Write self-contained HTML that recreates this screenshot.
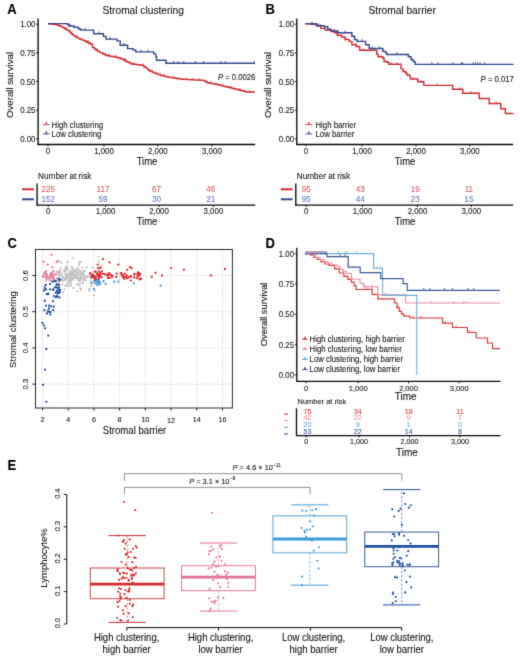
<!DOCTYPE html>
<html><head><meta charset="utf-8"><style>
html,body{margin:0;padding:0;background:#fff;}
svg{display:block;}
text{font-family:"Liberation Sans", sans-serif;}
</style></head><body>
<svg width="520" height="660" viewBox="0 0 520 660">
<defs><filter id="bl" x="0" y="0" width="100%" height="100%" filterUnits="userSpaceOnUse" color-interpolation-filters="sRGB"><feConvolveMatrix order="3" kernelMatrix="0.02 0.08 0.02 0.08 0.6 0.08 0.02 0.08 0.02" divisor="1" edgeMode="duplicate" preserveAlpha="false"/></filter></defs>
<rect width="520" height="660" fill="#fff"/>
<g filter="url(#bl)">
<rect width="520" height="660" fill="#fff"/>
<text transform="translate(7.20,13.91) scale(1,1.07)" font-size="13" text-anchor="start" fill="#000" stroke="#000" stroke-width="0.08" font-weight="bold" font-style="normal">A</text>
<text transform="translate(143.20,13.53) scale(1,1.07)" font-size="10.2" text-anchor="middle" fill="#111" stroke="#111" stroke-width="0.08" font-weight="normal" font-style="normal">Stromal clustering</text>
<line x1="38.10" y1="18.50" x2="38.10" y2="145.00" stroke="#0a0a0a" stroke-width="1.35"/>
<line x1="37.60" y1="144.50" x2="255.20" y2="144.50" stroke="#0a0a0a" stroke-width="1.35"/>
<line x1="36.10" y1="24.20" x2="38.10" y2="24.20" stroke="#0a0a0a" stroke-width="0.9"/>
<text transform="translate(35.50,27.24) scale(1,1.07)" font-size="7.9" text-anchor="end" fill="#151515" stroke="#151515" stroke-width="0.08" font-weight="normal" font-style="normal">1.00</text>
<line x1="36.10" y1="52.90" x2="38.10" y2="52.90" stroke="#0a0a0a" stroke-width="0.9"/>
<text transform="translate(35.50,55.94) scale(1,1.07)" font-size="7.9" text-anchor="end" fill="#151515" stroke="#151515" stroke-width="0.08" font-weight="normal" font-style="normal">0.75</text>
<line x1="36.10" y1="81.50" x2="38.10" y2="81.50" stroke="#0a0a0a" stroke-width="0.9"/>
<text transform="translate(35.50,84.54) scale(1,1.07)" font-size="7.9" text-anchor="end" fill="#151515" stroke="#151515" stroke-width="0.08" font-weight="normal" font-style="normal">0.50</text>
<line x1="36.10" y1="110.20" x2="38.10" y2="110.20" stroke="#0a0a0a" stroke-width="0.9"/>
<text transform="translate(35.50,113.24) scale(1,1.07)" font-size="7.9" text-anchor="end" fill="#151515" stroke="#151515" stroke-width="0.08" font-weight="normal" font-style="normal">0.25</text>
<line x1="36.10" y1="138.80" x2="38.10" y2="138.80" stroke="#0a0a0a" stroke-width="0.9"/>
<text transform="translate(35.50,141.84) scale(1,1.07)" font-size="7.9" text-anchor="end" fill="#151515" stroke="#151515" stroke-width="0.08" font-weight="normal" font-style="normal">0.00</text>
<line x1="48.00" y1="144.50" x2="48.00" y2="146.50" stroke="#0a0a0a" stroke-width="0.9"/>
<text transform="translate(48.00,154.04) scale(1,1.07)" font-size="7.9" text-anchor="middle" fill="#151515" stroke="#151515" stroke-width="0.08" font-weight="normal" font-style="normal">0</text>
<line x1="104.00" y1="144.50" x2="104.00" y2="146.50" stroke="#0a0a0a" stroke-width="0.9"/>
<text transform="translate(104.00,154.04) scale(1,1.07)" font-size="7.9" text-anchor="middle" fill="#151515" stroke="#151515" stroke-width="0.08" font-weight="normal" font-style="normal">1,000</text>
<line x1="157.80" y1="144.50" x2="157.80" y2="146.50" stroke="#0a0a0a" stroke-width="0.9"/>
<text transform="translate(157.80,154.04) scale(1,1.07)" font-size="7.9" text-anchor="middle" fill="#151515" stroke="#151515" stroke-width="0.08" font-weight="normal" font-style="normal">2,000</text>
<line x1="211.90" y1="144.50" x2="211.90" y2="146.50" stroke="#0a0a0a" stroke-width="0.9"/>
<text transform="translate(211.90,154.04) scale(1,1.07)" font-size="7.9" text-anchor="middle" fill="#151515" stroke="#151515" stroke-width="0.08" font-weight="normal" font-style="normal">3,000</text>
<text transform="translate(147.00,164.96) scale(1,1.07)" font-size="9.5" text-anchor="middle" fill="#111" stroke="#111" stroke-width="0.08" font-weight="normal" font-style="normal">Time</text>
<text transform="translate(9.10,85.00) rotate(-90)" x="0" y="3.49" font-size="9.7" text-anchor="middle" fill="#111" stroke="#111" stroke-width="0.08" font-weight="normal" font-style="normal">Overall survival</text>
<path d="M48.00,23.80H50.50V24.03H53.00V24.27H55.50V24.50H57.43V25.23H59.37V25.97H61.30V26.70H63.05V27.85H64.80V29.00H66.50V29.85H68.20V30.70H69.95V32.45H71.70V34.20H73.45V35.60H75.20V37.00H77.50V38.15H79.80V39.30H82.10V40.15H84.40V41.00H86.33V42.00H88.27V43.00H90.20V44.00H92.50V47.40H94.20V48.85H95.90V50.30H97.95V51.45H100.00V52.60H102.70V53.95H105.40V55.30H107.43V55.70H109.45V56.10H111.47V56.50H113.50V56.90H116.15V57.45H118.80V58.00H121.20V59.00H123.60V60.00H125.25V61.00H126.90V62.00H129.25V63.00H131.60V64.00H133.63V64.23H135.67V64.47H137.70V64.70H139.70V65.05H141.70V65.40H143.75V66.75H145.80V68.10H147.80V69.75H149.80V71.40H152.50V72.45H155.20V73.50H157.90V74.50H160.60V75.50H163.30V76.15H166.00V76.80H168.00V77.15H170.00V77.50H172.30V77.84H174.60V78.18H176.90V78.52H179.20V78.86H181.50V79.20H183.81V79.33H186.12V79.47H188.43V79.60H190.74V79.73H193.06V79.87H195.37V80.00H197.68V80.13H199.99V80.27H202.30V80.40H204.65V81.55H207.00V82.70H209.30V83.16H211.60V83.62H213.90V84.08H216.20V84.54H218.50V85.00H220.80V85.58H223.10V86.15H225.40V86.72H227.70V87.30H230.02V87.88H232.35V88.45H234.68V89.02H237.00V89.60H239.25V90.20H241.50V90.80H243.75V91.40H246.00V92.00H255.00" fill="none" stroke="#d32a35" stroke-width="1.4" stroke-linejoin="miter"/>
<path d="M48.00,23.60H67.00V24.20H68.80V26.00H74.00V27.20H78.60V29.00H80.90V30.10H93.60V33.70H103.40V36.40H106.00V39.10H116.80V40.90H120.20V45.20H127.60V48.60H133.00V49.90H135.70V51.90H153.80V53.90H155.90V56.60H156.50V60.30H166.00V63.20H255.00" fill="none" stroke="#33488a" stroke-width="1.4" stroke-linejoin="miter"/>
<line x1="42.80" y1="124.60" x2="49.80" y2="124.60" stroke="#dc5664" stroke-width="1.1"/>
<path d="M44.50,124.90L46.30,121.20L48.10,124.90Z" fill="#dc5664"/>
<text transform="translate(51.60,127.60) scale(1,1.07)" font-size="7.8" text-anchor="start" fill="#151515" stroke="#151515" stroke-width="0.08" font-weight="normal" font-style="normal">High clustering</text>
<line x1="42.80" y1="133.90" x2="49.80" y2="133.90" stroke="#6678b2" stroke-width="1.1"/>
<path d="M44.50,134.20L46.30,130.50L48.10,134.20Z" fill="#6678b2"/>
<text transform="translate(51.60,136.90) scale(1,1.07)" font-size="7.8" text-anchor="start" fill="#151515" stroke="#151515" stroke-width="0.08" font-weight="normal" font-style="normal">Low clustering</text>
<text transform="translate(255.40,79.57) scale(1,1.07)" font-size="7.7" text-anchor="end" fill="#151515" stroke="#151515" stroke-width="0.08"><tspan font-style="italic">P</tspan> = 0.0026</text>
<text transform="translate(38.10,178.86) scale(1,1.07)" font-size="8.2" text-anchor="start" fill="#151515" stroke="#151515" stroke-width="0.08" font-weight="normal" font-style="normal">Number at risk</text>
<line x1="22.10" y1="189.30" x2="33.90" y2="189.30" stroke="#d32a35" stroke-width="2.0"/>
<line x1="22.10" y1="199.30" x2="33.90" y2="199.30" stroke="#33488a" stroke-width="2.0"/>
<line x1="37.10" y1="183.40" x2="37.10" y2="205.60" stroke="#0a0a0a" stroke-width="1.35"/>
<line x1="36.60" y1="205.10" x2="255.20" y2="205.10" stroke="#0a0a0a" stroke-width="1.35"/>
<text transform="translate(48.30,192.36) scale(1,1.07)" font-size="8.2" text-anchor="middle" fill="#d45d68" stroke="#d45d68" stroke-width="0.08" font-weight="normal" font-style="normal">225</text>
<text transform="translate(48.30,202.36) scale(1,1.07)" font-size="8.2" text-anchor="middle" fill="#6480b6" stroke="#6480b6" stroke-width="0.08" font-weight="normal" font-style="normal">152</text>
<text transform="translate(103.00,192.36) scale(1,1.07)" font-size="8.2" text-anchor="middle" fill="#d45d68" stroke="#d45d68" stroke-width="0.08" font-weight="normal" font-style="normal">117</text>
<text transform="translate(103.00,202.36) scale(1,1.07)" font-size="8.2" text-anchor="middle" fill="#6480b6" stroke="#6480b6" stroke-width="0.08" font-weight="normal" font-style="normal">59</text>
<text transform="translate(156.50,192.36) scale(1,1.07)" font-size="8.2" text-anchor="middle" fill="#d45d68" stroke="#d45d68" stroke-width="0.08" font-weight="normal" font-style="normal">67</text>
<text transform="translate(156.50,202.36) scale(1,1.07)" font-size="8.2" text-anchor="middle" fill="#6480b6" stroke="#6480b6" stroke-width="0.08" font-weight="normal" font-style="normal">30</text>
<text transform="translate(210.80,192.36) scale(1,1.07)" font-size="8.2" text-anchor="middle" fill="#d45d68" stroke="#d45d68" stroke-width="0.08" font-weight="normal" font-style="normal">46</text>
<text transform="translate(210.80,202.36) scale(1,1.07)" font-size="8.2" text-anchor="middle" fill="#6480b6" stroke="#6480b6" stroke-width="0.08" font-weight="normal" font-style="normal">21</text>
<line x1="48.30" y1="205.10" x2="48.30" y2="207.00" stroke="#0a0a0a" stroke-width="0.9"/>
<text transform="translate(48.30,213.84) scale(1,1.07)" font-size="7.9" text-anchor="middle" fill="#151515" stroke="#151515" stroke-width="0.08" font-weight="normal" font-style="normal">0</text>
<line x1="105.50" y1="205.10" x2="105.50" y2="207.00" stroke="#0a0a0a" stroke-width="0.9"/>
<text transform="translate(105.50,213.84) scale(1,1.07)" font-size="7.9" text-anchor="middle" fill="#151515" stroke="#151515" stroke-width="0.08" font-weight="normal" font-style="normal">1,000</text>
<line x1="159.00" y1="205.10" x2="159.00" y2="207.00" stroke="#0a0a0a" stroke-width="0.9"/>
<text transform="translate(159.00,213.84) scale(1,1.07)" font-size="7.9" text-anchor="middle" fill="#151515" stroke="#151515" stroke-width="0.08" font-weight="normal" font-style="normal">2,000</text>
<line x1="213.40" y1="205.10" x2="213.40" y2="207.00" stroke="#0a0a0a" stroke-width="0.9"/>
<text transform="translate(213.40,213.84) scale(1,1.07)" font-size="7.9" text-anchor="middle" fill="#151515" stroke="#151515" stroke-width="0.08" font-weight="normal" font-style="normal">3,000</text>
<text transform="translate(147.00,224.66) scale(1,1.07)" font-size="9.5" text-anchor="middle" fill="#111" stroke="#111" stroke-width="0.08" font-weight="normal" font-style="normal">Time</text>
<line x1="173.50" y1="61.00" x2="173.50" y2="63.50" stroke="#33488a" stroke-width="0.9"/>
<line x1="178.00" y1="61.00" x2="178.00" y2="63.50" stroke="#33488a" stroke-width="0.9"/>
<line x1="183.80" y1="61.00" x2="183.80" y2="63.50" stroke="#33488a" stroke-width="0.9"/>
<line x1="195.40" y1="61.00" x2="195.40" y2="63.50" stroke="#33488a" stroke-width="0.9"/>
<line x1="203.50" y1="61.00" x2="203.50" y2="63.50" stroke="#33488a" stroke-width="0.9"/>
<line x1="220.80" y1="61.00" x2="220.80" y2="63.50" stroke="#33488a" stroke-width="0.9"/>
<line x1="225.40" y1="61.00" x2="225.40" y2="63.50" stroke="#33488a" stroke-width="0.9"/>
<line x1="254.20" y1="61.00" x2="254.20" y2="63.50" stroke="#33488a" stroke-width="0.9"/>
<line x1="70.00" y1="23.80" x2="70.00" y2="26.30" stroke="#33488a" stroke-width="0.9"/>
<line x1="85.00" y1="27.90" x2="85.00" y2="30.40" stroke="#33488a" stroke-width="0.9"/>
<line x1="99.00" y1="31.50" x2="99.00" y2="34.00" stroke="#33488a" stroke-width="0.9"/>
<line x1="110.00" y1="36.90" x2="110.00" y2="39.40" stroke="#33488a" stroke-width="0.9"/>
<line x1="124.00" y1="43.00" x2="124.00" y2="45.50" stroke="#33488a" stroke-width="0.9"/>
<line x1="141.00" y1="49.70" x2="141.00" y2="52.20" stroke="#33488a" stroke-width="0.9"/>
<line x1="148.00" y1="49.70" x2="148.00" y2="52.20" stroke="#33488a" stroke-width="0.9"/>
<line x1="58.00" y1="23.23" x2="58.00" y2="25.53" stroke="#d32a35" stroke-width="0.8"/>
<line x1="66.00" y1="27.00" x2="66.00" y2="29.30" stroke="#d32a35" stroke-width="0.8"/>
<line x1="77.00" y1="35.00" x2="77.00" y2="37.30" stroke="#d32a35" stroke-width="0.8"/>
<line x1="88.00" y1="40.00" x2="88.00" y2="42.30" stroke="#d32a35" stroke-width="0.8"/>
<line x1="97.00" y1="48.30" x2="97.00" y2="50.60" stroke="#d32a35" stroke-width="0.8"/>
<line x1="109.00" y1="53.70" x2="109.00" y2="56.00" stroke="#d32a35" stroke-width="0.8"/>
<line x1="116.00" y1="54.90" x2="116.00" y2="57.20" stroke="#d32a35" stroke-width="0.8"/>
<line x1="125.00" y1="58.00" x2="125.00" y2="60.30" stroke="#d32a35" stroke-width="0.8"/>
<line x1="134.00" y1="62.23" x2="134.00" y2="64.53" stroke="#d32a35" stroke-width="0.8"/>
<line x1="143.00" y1="63.40" x2="143.00" y2="65.70" stroke="#d32a35" stroke-width="0.8"/>
<line x1="152.00" y1="69.40" x2="152.00" y2="71.70" stroke="#d32a35" stroke-width="0.8"/>
<line x1="164.00" y1="74.15" x2="164.00" y2="76.45" stroke="#d32a35" stroke-width="0.8"/>
<line x1="174.00" y1="75.84" x2="174.00" y2="78.14" stroke="#d32a35" stroke-width="0.8"/>
<line x1="186.00" y1="77.33" x2="186.00" y2="79.63" stroke="#d32a35" stroke-width="0.8"/>
<line x1="193.00" y1="77.73" x2="193.00" y2="80.03" stroke="#d32a35" stroke-width="0.8"/>
<line x1="199.00" y1="78.13" x2="199.00" y2="80.43" stroke="#d32a35" stroke-width="0.8"/>
<line x1="211.00" y1="81.16" x2="211.00" y2="83.46" stroke="#d32a35" stroke-width="0.8"/>
<line x1="216.00" y1="82.08" x2="216.00" y2="84.38" stroke="#d32a35" stroke-width="0.8"/>
<line x1="223.00" y1="83.58" x2="223.00" y2="85.88" stroke="#d32a35" stroke-width="0.8"/>
<line x1="231.00" y1="85.88" x2="231.00" y2="88.17" stroke="#d32a35" stroke-width="0.8"/>
<line x1="240.00" y1="88.20" x2="240.00" y2="90.50" stroke="#d32a35" stroke-width="0.8"/>
<line x1="244.00" y1="89.40" x2="244.00" y2="91.70" stroke="#d32a35" stroke-width="0.8"/>
<line x1="250.00" y1="90.00" x2="250.00" y2="92.30" stroke="#d32a35" stroke-width="0.8"/>
<text transform="translate(265.60,13.91) scale(1,1.07)" font-size="13" text-anchor="start" fill="#000" stroke="#000" stroke-width="0.08" font-weight="bold" font-style="normal">B</text>
<text transform="translate(402.20,13.53) scale(1,1.07)" font-size="10.2" text-anchor="middle" fill="#111" stroke="#111" stroke-width="0.08" font-weight="normal" font-style="normal">Stromal barrier</text>
<line x1="296.80" y1="18.50" x2="296.80" y2="145.00" stroke="#0a0a0a" stroke-width="1.35"/>
<line x1="296.30" y1="144.50" x2="513.10" y2="144.50" stroke="#0a0a0a" stroke-width="1.35"/>
<line x1="294.80" y1="24.20" x2="296.80" y2="24.20" stroke="#0a0a0a" stroke-width="0.9"/>
<text transform="translate(294.20,27.24) scale(1,1.07)" font-size="7.9" text-anchor="end" fill="#151515" stroke="#151515" stroke-width="0.08" font-weight="normal" font-style="normal">1.00</text>
<line x1="294.80" y1="52.90" x2="296.80" y2="52.90" stroke="#0a0a0a" stroke-width="0.9"/>
<text transform="translate(294.20,55.94) scale(1,1.07)" font-size="7.9" text-anchor="end" fill="#151515" stroke="#151515" stroke-width="0.08" font-weight="normal" font-style="normal">0.75</text>
<line x1="294.80" y1="81.50" x2="296.80" y2="81.50" stroke="#0a0a0a" stroke-width="0.9"/>
<text transform="translate(294.20,84.54) scale(1,1.07)" font-size="7.9" text-anchor="end" fill="#151515" stroke="#151515" stroke-width="0.08" font-weight="normal" font-style="normal">0.50</text>
<line x1="294.80" y1="110.20" x2="296.80" y2="110.20" stroke="#0a0a0a" stroke-width="0.9"/>
<text transform="translate(294.20,113.24) scale(1,1.07)" font-size="7.9" text-anchor="end" fill="#151515" stroke="#151515" stroke-width="0.08" font-weight="normal" font-style="normal">0.25</text>
<line x1="294.80" y1="138.80" x2="296.80" y2="138.80" stroke="#0a0a0a" stroke-width="0.9"/>
<text transform="translate(294.20,141.84) scale(1,1.07)" font-size="7.9" text-anchor="end" fill="#151515" stroke="#151515" stroke-width="0.08" font-weight="normal" font-style="normal">0.00</text>
<line x1="305.90" y1="144.50" x2="305.90" y2="146.50" stroke="#0a0a0a" stroke-width="0.9"/>
<text transform="translate(305.90,154.04) scale(1,1.07)" font-size="7.9" text-anchor="middle" fill="#151515" stroke="#151515" stroke-width="0.08" font-weight="normal" font-style="normal">0</text>
<line x1="362.00" y1="144.50" x2="362.00" y2="146.50" stroke="#0a0a0a" stroke-width="0.9"/>
<text transform="translate(362.00,154.04) scale(1,1.07)" font-size="7.9" text-anchor="middle" fill="#151515" stroke="#151515" stroke-width="0.08" font-weight="normal" font-style="normal">1,000</text>
<line x1="416.00" y1="144.50" x2="416.00" y2="146.50" stroke="#0a0a0a" stroke-width="0.9"/>
<text transform="translate(416.00,154.04) scale(1,1.07)" font-size="7.9" text-anchor="middle" fill="#151515" stroke="#151515" stroke-width="0.08" font-weight="normal" font-style="normal">2,000</text>
<line x1="469.80" y1="144.50" x2="469.80" y2="146.50" stroke="#0a0a0a" stroke-width="0.9"/>
<text transform="translate(469.80,154.04) scale(1,1.07)" font-size="7.9" text-anchor="middle" fill="#151515" stroke="#151515" stroke-width="0.08" font-weight="normal" font-style="normal">3,000</text>
<text transform="translate(405.00,164.96) scale(1,1.07)" font-size="9.5" text-anchor="middle" fill="#111" stroke="#111" stroke-width="0.08" font-weight="normal" font-style="normal">Time</text>
<text transform="translate(267.80,85.00) rotate(-90)" x="0" y="3.49" font-size="9.7" text-anchor="middle" fill="#111" stroke="#111" stroke-width="0.08" font-weight="normal" font-style="normal">Overall survival</text>
<path d="M305.20,23.80H313.80V24.20H317.30V25.80H320.80V28.40H325.10V30.10H331.10V31.50H334.60V32.70H337.20V35.30H341.50V37.00H345.00V39.60H349.30V41.40H351.90V44.80H356.20V46.50H359.70V50.20H376.70V54.10H378.10V56.80H382.80V58.20H384.10V61.50H386.80V62.20H388.80V64.20H401.00V68.90H403.00V71.60H405.70V73.00H407.00V75.00H409.70V76.10H410.40V79.00H417.80V81.70H423.80V85.40H452.60V89.20H462.80V93.20H479.20V98.50H489.20V103.50H500.80V108.80H505.40V113.50H513.50" fill="none" stroke="#d32a35" stroke-width="1.4" stroke-linejoin="miter"/>
<path d="M305.20,23.60H310.40V24.00H316.40V25.80H324.20V26.70H327.70V29.20H331.10V31.00H338.00V32.70H351.90V36.20H354.50V39.60H357.10V41.40H365.70V44.80H369.20V48.50H382.80V51.40H385.50V52.80H386.80V54.50H408.40V56.80H411.00V59.50H413.10V61.50H415.10V64.40H513.50" fill="none" stroke="#33488a" stroke-width="1.4" stroke-linejoin="miter"/>
<line x1="305.30" y1="124.60" x2="312.30" y2="124.60" stroke="#dc5664" stroke-width="1.1"/>
<path d="M307.00,124.90L308.80,121.20L310.60,124.90Z" fill="#dc5664"/>
<text transform="translate(315.50,127.60) scale(1,1.07)" font-size="7.8" text-anchor="start" fill="#151515" stroke="#151515" stroke-width="0.08" font-weight="normal" font-style="normal">High barrier</text>
<line x1="305.30" y1="133.90" x2="312.30" y2="133.90" stroke="#6678b2" stroke-width="1.1"/>
<path d="M307.00,134.20L308.80,130.50L310.60,134.20Z" fill="#6678b2"/>
<text transform="translate(315.50,136.90) scale(1,1.07)" font-size="7.8" text-anchor="start" fill="#151515" stroke="#151515" stroke-width="0.08" font-weight="normal" font-style="normal">Low barrier</text>
<text transform="translate(513.80,82.17) scale(1,1.07)" font-size="7.7" text-anchor="end" fill="#151515" stroke="#151515" stroke-width="0.08"><tspan font-style="italic">P</tspan> = 0.017</text>
<text transform="translate(296.80,178.86) scale(1,1.07)" font-size="8.2" text-anchor="start" fill="#151515" stroke="#151515" stroke-width="0.08" font-weight="normal" font-style="normal">Number at risk</text>
<line x1="280.80" y1="189.30" x2="292.60" y2="189.30" stroke="#d32a35" stroke-width="2.0"/>
<line x1="280.80" y1="199.30" x2="292.60" y2="199.30" stroke="#33488a" stroke-width="2.0"/>
<line x1="295.80" y1="183.40" x2="295.80" y2="205.60" stroke="#0a0a0a" stroke-width="1.35"/>
<line x1="295.30" y1="205.10" x2="513.10" y2="205.10" stroke="#0a0a0a" stroke-width="1.35"/>
<text transform="translate(306.20,192.36) scale(1,1.07)" font-size="8.2" text-anchor="middle" fill="#d45d68" stroke="#d45d68" stroke-width="0.08" font-weight="normal" font-style="normal">95</text>
<text transform="translate(306.20,202.36) scale(1,1.07)" font-size="8.2" text-anchor="middle" fill="#6480b6" stroke="#6480b6" stroke-width="0.08" font-weight="normal" font-style="normal">95</text>
<text transform="translate(360.20,192.36) scale(1,1.07)" font-size="8.2" text-anchor="middle" fill="#d45d68" stroke="#d45d68" stroke-width="0.08" font-weight="normal" font-style="normal">43</text>
<text transform="translate(360.20,202.36) scale(1,1.07)" font-size="8.2" text-anchor="middle" fill="#6480b6" stroke="#6480b6" stroke-width="0.08" font-weight="normal" font-style="normal">44</text>
<text transform="translate(415.20,192.36) scale(1,1.07)" font-size="8.2" text-anchor="middle" fill="#d45d68" stroke="#d45d68" stroke-width="0.08" font-weight="normal" font-style="normal">19</text>
<text transform="translate(415.20,202.36) scale(1,1.07)" font-size="8.2" text-anchor="middle" fill="#6480b6" stroke="#6480b6" stroke-width="0.08" font-weight="normal" font-style="normal">23</text>
<text transform="translate(468.90,192.36) scale(1,1.07)" font-size="8.2" text-anchor="middle" fill="#d45d68" stroke="#d45d68" stroke-width="0.08" font-weight="normal" font-style="normal">11</text>
<text transform="translate(468.90,202.36) scale(1,1.07)" font-size="8.2" text-anchor="middle" fill="#6480b6" stroke="#6480b6" stroke-width="0.08" font-weight="normal" font-style="normal">15</text>
<line x1="306.20" y1="205.10" x2="306.20" y2="207.00" stroke="#0a0a0a" stroke-width="0.9"/>
<text transform="translate(306.20,213.84) scale(1,1.07)" font-size="7.9" text-anchor="middle" fill="#151515" stroke="#151515" stroke-width="0.08" font-weight="normal" font-style="normal">0</text>
<line x1="362.50" y1="205.10" x2="362.50" y2="207.00" stroke="#0a0a0a" stroke-width="0.9"/>
<text transform="translate(362.50,213.84) scale(1,1.07)" font-size="7.9" text-anchor="middle" fill="#151515" stroke="#151515" stroke-width="0.08" font-weight="normal" font-style="normal">1,000</text>
<line x1="417.50" y1="205.10" x2="417.50" y2="207.00" stroke="#0a0a0a" stroke-width="0.9"/>
<text transform="translate(417.50,213.84) scale(1,1.07)" font-size="7.9" text-anchor="middle" fill="#151515" stroke="#151515" stroke-width="0.08" font-weight="normal" font-style="normal">2,000</text>
<line x1="471.30" y1="205.10" x2="471.30" y2="207.00" stroke="#0a0a0a" stroke-width="0.9"/>
<text transform="translate(471.30,213.84) scale(1,1.07)" font-size="7.9" text-anchor="middle" fill="#151515" stroke="#151515" stroke-width="0.08" font-weight="normal" font-style="normal">3,000</text>
<text transform="translate(405.00,224.66) scale(1,1.07)" font-size="9.5" text-anchor="middle" fill="#111" stroke="#111" stroke-width="0.08" font-weight="normal" font-style="normal">Time</text>
<line x1="372.00" y1="46.30" x2="372.00" y2="48.80" stroke="#33488a" stroke-width="0.9"/>
<line x1="379.40" y1="46.30" x2="379.40" y2="48.80" stroke="#33488a" stroke-width="0.9"/>
<line x1="382.80" y1="49.20" x2="382.80" y2="51.70" stroke="#33488a" stroke-width="0.9"/>
<line x1="396.90" y1="52.30" x2="396.90" y2="54.80" stroke="#33488a" stroke-width="0.9"/>
<line x1="408.40" y1="54.60" x2="408.40" y2="57.10" stroke="#33488a" stroke-width="0.9"/>
<line x1="431.90" y1="62.20" x2="431.90" y2="64.70" stroke="#33488a" stroke-width="0.9"/>
<line x1="438.00" y1="62.20" x2="438.00" y2="64.70" stroke="#33488a" stroke-width="0.9"/>
<line x1="453.00" y1="62.20" x2="453.00" y2="64.70" stroke="#33488a" stroke-width="0.9"/>
<line x1="461.50" y1="62.20" x2="461.50" y2="64.70" stroke="#33488a" stroke-width="0.9"/>
<line x1="462.80" y1="62.20" x2="462.80" y2="64.70" stroke="#33488a" stroke-width="0.9"/>
<line x1="473.00" y1="62.20" x2="473.00" y2="64.70" stroke="#33488a" stroke-width="0.9"/>
<line x1="475.40" y1="62.20" x2="475.40" y2="64.70" stroke="#33488a" stroke-width="0.9"/>
<line x1="477.70" y1="62.20" x2="477.70" y2="64.70" stroke="#33488a" stroke-width="0.9"/>
<line x1="480.00" y1="62.20" x2="480.00" y2="64.70" stroke="#33488a" stroke-width="0.9"/>
<line x1="484.60" y1="62.20" x2="484.60" y2="64.70" stroke="#33488a" stroke-width="0.9"/>
<line x1="312.00" y1="21.80" x2="312.00" y2="24.30" stroke="#33488a" stroke-width="0.9"/>
<line x1="320.00" y1="23.60" x2="320.00" y2="26.10" stroke="#33488a" stroke-width="0.9"/>
<line x1="334.00" y1="28.80" x2="334.00" y2="31.30" stroke="#33488a" stroke-width="0.9"/>
<line x1="345.00" y1="30.50" x2="345.00" y2="33.00" stroke="#33488a" stroke-width="0.9"/>
<line x1="362.00" y1="39.20" x2="362.00" y2="41.70" stroke="#33488a" stroke-width="0.9"/>
<line x1="318.00" y1="23.80" x2="318.00" y2="26.10" stroke="#d32a35" stroke-width="0.8"/>
<line x1="328.00" y1="28.10" x2="328.00" y2="30.40" stroke="#d32a35" stroke-width="0.8"/>
<line x1="336.00" y1="30.70" x2="336.00" y2="33.00" stroke="#d32a35" stroke-width="0.8"/>
<line x1="347.00" y1="37.60" x2="347.00" y2="39.90" stroke="#d32a35" stroke-width="0.8"/>
<line x1="356.00" y1="42.80" x2="356.00" y2="45.10" stroke="#d32a35" stroke-width="0.8"/>
<line x1="363.00" y1="48.20" x2="363.00" y2="50.50" stroke="#d32a35" stroke-width="0.8"/>
<line x1="370.00" y1="48.20" x2="370.00" y2="50.50" stroke="#d32a35" stroke-width="0.8"/>
<line x1="381.00" y1="54.80" x2="381.00" y2="57.10" stroke="#d32a35" stroke-width="0.8"/>
<line x1="391.00" y1="62.20" x2="391.00" y2="64.50" stroke="#d32a35" stroke-width="0.8"/>
<line x1="397.00" y1="62.20" x2="397.00" y2="64.50" stroke="#d32a35" stroke-width="0.8"/>
<line x1="404.00" y1="69.60" x2="404.00" y2="71.90" stroke="#d32a35" stroke-width="0.8"/>
<line x1="413.00" y1="77.00" x2="413.00" y2="79.30" stroke="#d32a35" stroke-width="0.8"/>
<line x1="421.00" y1="79.70" x2="421.00" y2="82.00" stroke="#d32a35" stroke-width="0.8"/>
<line x1="437.00" y1="83.40" x2="437.00" y2="85.70" stroke="#d32a35" stroke-width="0.8"/>
<line x1="460.00" y1="87.20" x2="460.00" y2="89.50" stroke="#d32a35" stroke-width="0.8"/>
<line x1="471.00" y1="91.20" x2="471.00" y2="93.50" stroke="#d32a35" stroke-width="0.8"/>
<line x1="496.00" y1="101.50" x2="496.00" y2="103.80" stroke="#d32a35" stroke-width="0.8"/>
<text transform="translate(7.40,247.81) scale(1,1.07)" font-size="13" text-anchor="start" fill="#000" stroke="#000" stroke-width="0.08" font-weight="bold" font-style="normal">C</text>
<line x1="42.50" y1="249.50" x2="42.50" y2="408.00" stroke="#b8b8b8" stroke-width="0.8" stroke-dasharray="1,2"/>
<line x1="68.20" y1="249.50" x2="68.20" y2="408.00" stroke="#b8b8b8" stroke-width="0.8" stroke-dasharray="1,2"/>
<line x1="93.90" y1="249.50" x2="93.90" y2="408.00" stroke="#b8b8b8" stroke-width="0.8" stroke-dasharray="1,2"/>
<line x1="119.60" y1="249.50" x2="119.60" y2="408.00" stroke="#b8b8b8" stroke-width="0.8" stroke-dasharray="1,2"/>
<line x1="145.30" y1="249.50" x2="145.30" y2="408.00" stroke="#b8b8b8" stroke-width="0.8" stroke-dasharray="1,2"/>
<line x1="171.00" y1="249.50" x2="171.00" y2="408.00" stroke="#b8b8b8" stroke-width="0.8" stroke-dasharray="1,2"/>
<line x1="196.70" y1="249.50" x2="196.70" y2="408.00" stroke="#b8b8b8" stroke-width="0.8" stroke-dasharray="1,2"/>
<line x1="222.40" y1="249.50" x2="222.40" y2="408.00" stroke="#b8b8b8" stroke-width="0.8" stroke-dasharray="1,2"/>
<line x1="35.50" y1="275.50" x2="232.40" y2="275.50" stroke="#b8b8b8" stroke-width="0.8" stroke-dasharray="1,2"/>
<line x1="35.50" y1="311.70" x2="232.40" y2="311.70" stroke="#b8b8b8" stroke-width="0.8" stroke-dasharray="1,2"/>
<line x1="35.50" y1="347.90" x2="232.40" y2="347.90" stroke="#b8b8b8" stroke-width="0.8" stroke-dasharray="1,2"/>
<line x1="35.50" y1="384.10" x2="232.40" y2="384.10" stroke="#b8b8b8" stroke-width="0.8" stroke-dasharray="1,2"/>
<circle cx="61.83" cy="273.50" r="1.15" fill="#c4c4c4"/>
<circle cx="80.37" cy="277.37" r="1.15" fill="#c4c4c4"/>
<circle cx="60.95" cy="275.42" r="1.15" fill="#c4c4c4"/>
<circle cx="76.05" cy="270.37" r="1.15" fill="#c4c4c4"/>
<circle cx="61.90" cy="280.75" r="1.15" fill="#c4c4c4"/>
<circle cx="77.95" cy="273.08" r="1.15" fill="#c4c4c4"/>
<circle cx="84.87" cy="270.87" r="1.15" fill="#c4c4c4"/>
<circle cx="71.20" cy="276.33" r="1.15" fill="#c4c4c4"/>
<circle cx="93.53" cy="276.39" r="1.15" fill="#c4c4c4"/>
<circle cx="65.50" cy="280.08" r="1.15" fill="#c4c4c4"/>
<circle cx="72.85" cy="274.51" r="1.15" fill="#c4c4c4"/>
<circle cx="69.17" cy="275.41" r="1.15" fill="#c4c4c4"/>
<circle cx="74.34" cy="272.13" r="1.15" fill="#c4c4c4"/>
<circle cx="81.22" cy="274.23" r="1.15" fill="#c4c4c4"/>
<circle cx="57.11" cy="272.09" r="1.15" fill="#c4c4c4"/>
<circle cx="60.20" cy="275.88" r="1.15" fill="#c4c4c4"/>
<circle cx="59.75" cy="275.13" r="1.15" fill="#c4c4c4"/>
<circle cx="65.55" cy="274.21" r="1.15" fill="#c4c4c4"/>
<circle cx="93.90" cy="275.35" r="1.15" fill="#c4c4c4"/>
<circle cx="79.09" cy="280.89" r="1.15" fill="#c4c4c4"/>
<circle cx="69.65" cy="272.26" r="1.15" fill="#c4c4c4"/>
<circle cx="71.28" cy="273.53" r="1.15" fill="#c4c4c4"/>
<circle cx="72.92" cy="279.51" r="1.15" fill="#c4c4c4"/>
<circle cx="76.76" cy="278.67" r="1.15" fill="#c4c4c4"/>
<circle cx="87.69" cy="277.33" r="1.15" fill="#c4c4c4"/>
<circle cx="77.79" cy="275.13" r="1.15" fill="#c4c4c4"/>
<circle cx="80.01" cy="277.75" r="1.15" fill="#c4c4c4"/>
<circle cx="80.40" cy="275.68" r="1.15" fill="#c4c4c4"/>
<circle cx="82.61" cy="272.43" r="1.15" fill="#c4c4c4"/>
<circle cx="73.24" cy="278.53" r="1.15" fill="#c4c4c4"/>
<circle cx="78.47" cy="273.10" r="1.15" fill="#c4c4c4"/>
<circle cx="85.77" cy="276.78" r="1.15" fill="#c4c4c4"/>
<circle cx="76.69" cy="272.93" r="1.15" fill="#c4c4c4"/>
<circle cx="74.42" cy="274.23" r="1.15" fill="#c4c4c4"/>
<circle cx="73.58" cy="277.74" r="1.15" fill="#c4c4c4"/>
<circle cx="63.58" cy="276.86" r="1.15" fill="#c4c4c4"/>
<circle cx="76.99" cy="268.57" r="1.15" fill="#c4c4c4"/>
<circle cx="80.22" cy="270.56" r="1.15" fill="#c4c4c4"/>
<circle cx="78.55" cy="272.10" r="1.15" fill="#c4c4c4"/>
<circle cx="73.59" cy="271.79" r="1.15" fill="#c4c4c4"/>
<circle cx="86.87" cy="276.56" r="1.15" fill="#c4c4c4"/>
<circle cx="66.26" cy="266.62" r="1.15" fill="#c4c4c4"/>
<circle cx="74.10" cy="270.92" r="1.15" fill="#c4c4c4"/>
<circle cx="79.35" cy="280.07" r="1.15" fill="#c4c4c4"/>
<circle cx="92.38" cy="267.42" r="1.15" fill="#c4c4c4"/>
<circle cx="73.53" cy="271.87" r="1.15" fill="#c4c4c4"/>
<circle cx="73.12" cy="278.98" r="1.15" fill="#c4c4c4"/>
<circle cx="71.12" cy="273.51" r="1.15" fill="#c4c4c4"/>
<circle cx="81.37" cy="272.06" r="1.15" fill="#c4c4c4"/>
<circle cx="72.55" cy="269.25" r="1.15" fill="#c4c4c4"/>
<circle cx="65.70" cy="271.69" r="1.15" fill="#c4c4c4"/>
<circle cx="81.34" cy="276.41" r="1.15" fill="#c4c4c4"/>
<circle cx="57.10" cy="279.07" r="1.15" fill="#c4c4c4"/>
<circle cx="74.03" cy="272.85" r="1.15" fill="#c4c4c4"/>
<circle cx="84.99" cy="279.50" r="1.15" fill="#c4c4c4"/>
<circle cx="72.07" cy="272.32" r="1.15" fill="#c4c4c4"/>
<circle cx="70.74" cy="285.43" r="1.15" fill="#c4c4c4"/>
<circle cx="78.79" cy="265.09" r="1.15" fill="#c4c4c4"/>
<circle cx="80.44" cy="279.12" r="1.15" fill="#c4c4c4"/>
<circle cx="68.61" cy="274.17" r="1.15" fill="#c4c4c4"/>
<circle cx="92.84" cy="272.46" r="1.15" fill="#c4c4c4"/>
<circle cx="73.00" cy="268.37" r="1.15" fill="#c4c4c4"/>
<circle cx="71.37" cy="267.05" r="1.15" fill="#c4c4c4"/>
<circle cx="66.33" cy="277.20" r="1.15" fill="#c4c4c4"/>
<circle cx="78.08" cy="268.95" r="1.15" fill="#c4c4c4"/>
<circle cx="77.52" cy="273.83" r="1.15" fill="#c4c4c4"/>
<circle cx="56.84" cy="278.23" r="1.15" fill="#c4c4c4"/>
<circle cx="66.95" cy="277.46" r="1.15" fill="#c4c4c4"/>
<circle cx="76.95" cy="276.59" r="1.15" fill="#c4c4c4"/>
<circle cx="78.63" cy="274.78" r="1.15" fill="#c4c4c4"/>
<circle cx="69.28" cy="274.62" r="1.15" fill="#c4c4c4"/>
<circle cx="75.64" cy="271.41" r="1.15" fill="#c4c4c4"/>
<circle cx="68.07" cy="276.15" r="1.15" fill="#c4c4c4"/>
<circle cx="60.67" cy="268.17" r="1.15" fill="#c4c4c4"/>
<circle cx="84.18" cy="275.91" r="1.15" fill="#c4c4c4"/>
<circle cx="68.06" cy="280.51" r="1.15" fill="#c4c4c4"/>
<circle cx="73.47" cy="274.24" r="1.15" fill="#c4c4c4"/>
<circle cx="90.28" cy="274.07" r="1.15" fill="#c4c4c4"/>
<circle cx="65.56" cy="285.76" r="1.15" fill="#c4c4c4"/>
<circle cx="83.83" cy="274.32" r="1.15" fill="#c4c4c4"/>
<circle cx="58.61" cy="274.35" r="1.15" fill="#c4c4c4"/>
<circle cx="58.62" cy="261.02" r="1.15" fill="#c4c4c4"/>
<circle cx="81.40" cy="272.65" r="1.15" fill="#c4c4c4"/>
<circle cx="70.59" cy="284.43" r="1.15" fill="#c4c4c4"/>
<circle cx="71.00" cy="281.89" r="1.15" fill="#c4c4c4"/>
<circle cx="77.03" cy="284.43" r="1.15" fill="#c4c4c4"/>
<circle cx="64.47" cy="269.84" r="1.15" fill="#c4c4c4"/>
<circle cx="85.79" cy="280.27" r="1.15" fill="#c4c4c4"/>
<circle cx="59.24" cy="271.32" r="1.15" fill="#c4c4c4"/>
<circle cx="79.18" cy="279.42" r="1.15" fill="#c4c4c4"/>
<circle cx="66.26" cy="278.15" r="1.15" fill="#c4c4c4"/>
<circle cx="62.12" cy="278.09" r="1.15" fill="#c4c4c4"/>
<circle cx="82.50" cy="272.14" r="1.15" fill="#c4c4c4"/>
<circle cx="89.23" cy="275.51" r="1.15" fill="#c4c4c4"/>
<circle cx="70.92" cy="279.41" r="1.15" fill="#c4c4c4"/>
<circle cx="71.02" cy="280.84" r="1.15" fill="#c4c4c4"/>
<circle cx="57.21" cy="272.11" r="1.15" fill="#c4c4c4"/>
<circle cx="84.08" cy="271.50" r="1.15" fill="#c4c4c4"/>
<circle cx="83.18" cy="274.04" r="1.15" fill="#c4c4c4"/>
<circle cx="66.06" cy="274.76" r="1.15" fill="#c4c4c4"/>
<circle cx="68.93" cy="279.97" r="1.15" fill="#c4c4c4"/>
<circle cx="57.92" cy="281.58" r="1.15" fill="#c4c4c4"/>
<circle cx="72.01" cy="274.48" r="1.15" fill="#c4c4c4"/>
<circle cx="68.09" cy="268.93" r="1.15" fill="#c4c4c4"/>
<circle cx="73.55" cy="272.61" r="1.15" fill="#c4c4c4"/>
<circle cx="82.23" cy="278.70" r="1.15" fill="#c4c4c4"/>
<circle cx="56.64" cy="271.87" r="1.15" fill="#c4c4c4"/>
<circle cx="66.30" cy="269.44" r="1.15" fill="#c4c4c4"/>
<circle cx="74.87" cy="270.76" r="1.15" fill="#c4c4c4"/>
<circle cx="78.43" cy="284.18" r="1.15" fill="#c4c4c4"/>
<circle cx="78.06" cy="278.06" r="1.15" fill="#c4c4c4"/>
<circle cx="65.74" cy="277.03" r="1.15" fill="#c4c4c4"/>
<circle cx="78.47" cy="271.30" r="1.15" fill="#c4c4c4"/>
<circle cx="80.50" cy="282.35" r="1.15" fill="#c4c4c4"/>
<circle cx="67.12" cy="285.46" r="1.15" fill="#c4c4c4"/>
<circle cx="71.20" cy="272.53" r="1.15" fill="#c4c4c4"/>
<circle cx="65.67" cy="274.07" r="1.15" fill="#c4c4c4"/>
<circle cx="73.99" cy="270.76" r="1.15" fill="#c4c4c4"/>
<circle cx="65.19" cy="278.74" r="1.15" fill="#c4c4c4"/>
<circle cx="65.68" cy="267.52" r="1.15" fill="#c4c4c4"/>
<circle cx="81.16" cy="275.68" r="1.15" fill="#c4c4c4"/>
<circle cx="73.94" cy="274.64" r="1.15" fill="#c4c4c4"/>
<circle cx="73.75" cy="276.04" r="1.15" fill="#c4c4c4"/>
<circle cx="69.26" cy="280.60" r="1.15" fill="#c4c4c4"/>
<circle cx="66.69" cy="267.97" r="1.15" fill="#c4c4c4"/>
<circle cx="76.54" cy="274.86" r="1.15" fill="#c4c4c4"/>
<circle cx="70.26" cy="274.87" r="1.15" fill="#c4c4c4"/>
<circle cx="75.01" cy="277.94" r="1.15" fill="#c4c4c4"/>
<circle cx="73.69" cy="274.10" r="1.15" fill="#c4c4c4"/>
<circle cx="65.80" cy="278.57" r="1.15" fill="#c4c4c4"/>
<circle cx="63.71" cy="279.76" r="1.15" fill="#c4c4c4"/>
<circle cx="79.49" cy="285.39" r="1.15" fill="#c4c4c4"/>
<circle cx="69.83" cy="277.79" r="1.15" fill="#c4c4c4"/>
<circle cx="66.88" cy="274.71" r="1.15" fill="#c4c4c4"/>
<circle cx="81.48" cy="274.81" r="1.15" fill="#c4c4c4"/>
<circle cx="70.88" cy="277.80" r="1.15" fill="#c4c4c4"/>
<circle cx="70.98" cy="271.18" r="1.15" fill="#c4c4c4"/>
<circle cx="68.76" cy="280.12" r="1.15" fill="#c4c4c4"/>
<circle cx="61.50" cy="279.95" r="1.15" fill="#c4c4c4"/>
<circle cx="60.45" cy="270.36" r="1.15" fill="#c4c4c4"/>
<circle cx="75.02" cy="276.17" r="1.15" fill="#c4c4c4"/>
<circle cx="84.25" cy="278.00" r="1.15" fill="#c4c4c4"/>
<circle cx="78.34" cy="271.66" r="1.15" fill="#c4c4c4"/>
<circle cx="59.14" cy="281.90" r="1.15" fill="#c4c4c4"/>
<circle cx="64.31" cy="271.20" r="1.15" fill="#c4c4c4"/>
<circle cx="82.88" cy="280.47" r="1.15" fill="#c4c4c4"/>
<circle cx="80.81" cy="276.80" r="1.15" fill="#c4c4c4"/>
<circle cx="68.77" cy="277.53" r="1.15" fill="#c4c4c4"/>
<circle cx="69.35" cy="283.04" r="1.15" fill="#c4c4c4"/>
<circle cx="63.69" cy="280.51" r="1.15" fill="#c4c4c4"/>
<circle cx="67.15" cy="277.13" r="1.15" fill="#c4c4c4"/>
<circle cx="95.74" cy="275.87" r="1.15" fill="#c4c4c4"/>
<circle cx="79.21" cy="278.91" r="1.15" fill="#c4c4c4"/>
<circle cx="71.14" cy="276.97" r="1.15" fill="#c4c4c4"/>
<circle cx="91.10" cy="286.11" r="1.15" fill="#c4c4c4"/>
<circle cx="62.29" cy="284.61" r="1.15" fill="#c4c4c4"/>
<circle cx="79.71" cy="279.28" r="1.15" fill="#c4c4c4"/>
<circle cx="77.37" cy="291.33" r="1.15" fill="#c4c4c4"/>
<circle cx="89.36" cy="290.75" r="1.15" fill="#c4c4c4"/>
<circle cx="89.01" cy="288.97" r="1.15" fill="#c4c4c4"/>
<circle cx="71.69" cy="278.96" r="1.15" fill="#c4c4c4"/>
<circle cx="64.44" cy="289.37" r="1.15" fill="#c4c4c4"/>
<circle cx="78.45" cy="280.00" r="1.15" fill="#c4c4c4"/>
<circle cx="90.51" cy="280.56" r="1.15" fill="#c4c4c4"/>
<circle cx="94.45" cy="283.77" r="1.15" fill="#c4c4c4"/>
<circle cx="94.58" cy="290.39" r="1.15" fill="#c4c4c4"/>
<circle cx="67.46" cy="283.21" r="1.15" fill="#c4c4c4"/>
<circle cx="70.02" cy="279.92" r="1.15" fill="#c4c4c4"/>
<circle cx="83.01" cy="283.27" r="1.15" fill="#c4c4c4"/>
<circle cx="90.64" cy="282.67" r="1.15" fill="#c4c4c4"/>
<circle cx="70.82" cy="285.58" r="1.15" fill="#c4c4c4"/>
<circle cx="90.70" cy="277.12" r="1.15" fill="#c4c4c4"/>
<circle cx="66.97" cy="277.93" r="1.15" fill="#c4c4c4"/>
<circle cx="95.29" cy="283.25" r="1.15" fill="#c4c4c4"/>
<circle cx="80.56" cy="288.52" r="1.15" fill="#c4c4c4"/>
<circle cx="79.45" cy="261.88" r="1.15" fill="#c4c4c4"/>
<circle cx="82.57" cy="267.91" r="1.15" fill="#c4c4c4"/>
<circle cx="98.95" cy="261.72" r="1.15" fill="#c4c4c4"/>
<circle cx="73.37" cy="258.11" r="1.15" fill="#c4c4c4"/>
<circle cx="80.66" cy="262.04" r="1.15" fill="#c4c4c4"/>
<circle cx="86.43" cy="267.43" r="1.15" fill="#c4c4c4"/>
<circle cx="79.58" cy="263.02" r="1.15" fill="#c4c4c4"/>
<circle cx="98.39" cy="256.56" r="1.15" fill="#c4c4c4"/>
<circle cx="67.46" cy="262.27" r="1.15" fill="#c4c4c4"/>
<circle cx="61.06" cy="262.77" r="1.15" fill="#c4c4c4"/>
<circle cx="93.90" cy="295.41" r="1.15" fill="#c4c4c4"/>
<circle cx="81.05" cy="289.98" r="1.15" fill="#c4c4c4"/>
<circle cx="73.34" cy="287.81" r="1.15" fill="#c4c4c4"/>
<circle cx="63.06" cy="292.51" r="1.15" fill="#c4c4c4"/>
<circle cx="68.20" cy="286.36" r="1.15" fill="#c4c4c4"/>
<circle cx="54.09" cy="280.21" r="1.15" fill="#e8809f"/>
<circle cx="46.32" cy="276.31" r="1.15" fill="#e8809f"/>
<circle cx="52.45" cy="273.77" r="1.15" fill="#e8809f"/>
<circle cx="52.32" cy="277.10" r="1.15" fill="#e8809f"/>
<circle cx="50.39" cy="277.04" r="1.15" fill="#e8809f"/>
<circle cx="51.32" cy="275.12" r="1.15" fill="#e8809f"/>
<circle cx="48.68" cy="278.35" r="1.15" fill="#e8809f"/>
<circle cx="46.37" cy="274.20" r="1.15" fill="#e8809f"/>
<circle cx="55.97" cy="274.43" r="1.15" fill="#e8809f"/>
<circle cx="54.06" cy="274.78" r="1.15" fill="#e8809f"/>
<circle cx="50.20" cy="275.14" r="1.15" fill="#e8809f"/>
<circle cx="45.48" cy="277.03" r="1.15" fill="#e8809f"/>
<circle cx="46.91" cy="275.01" r="1.15" fill="#e8809f"/>
<circle cx="47.60" cy="276.82" r="1.15" fill="#e8809f"/>
<circle cx="52.01" cy="273.64" r="1.15" fill="#e8809f"/>
<circle cx="46.65" cy="278.62" r="1.15" fill="#e8809f"/>
<circle cx="53.89" cy="278.99" r="1.15" fill="#e8809f"/>
<circle cx="52.24" cy="277.82" r="1.15" fill="#e8809f"/>
<circle cx="49.73" cy="280.21" r="1.15" fill="#e8809f"/>
<circle cx="53.42" cy="277.67" r="1.15" fill="#e8809f"/>
<circle cx="46.17" cy="272.07" r="1.15" fill="#e8809f"/>
<circle cx="53.41" cy="271.16" r="1.15" fill="#e8809f"/>
<circle cx="52.04" cy="277.34" r="1.15" fill="#e8809f"/>
<circle cx="50.69" cy="273.10" r="1.15" fill="#e8809f"/>
<circle cx="50.09" cy="275.61" r="1.15" fill="#e8809f"/>
<circle cx="52.53" cy="278.56" r="1.15" fill="#e8809f"/>
<circle cx="50.79" cy="277.68" r="1.15" fill="#e8809f"/>
<circle cx="44.61" cy="274.69" r="1.15" fill="#e8809f"/>
<circle cx="53.20" cy="276.42" r="1.15" fill="#e8809f"/>
<circle cx="46.13" cy="280.21" r="1.15" fill="#e8809f"/>
<circle cx="52.39" cy="276.80" r="1.15" fill="#e8809f"/>
<circle cx="42.64" cy="276.72" r="1.15" fill="#e8809f"/>
<circle cx="43.37" cy="276.64" r="1.15" fill="#e8809f"/>
<circle cx="50.85" cy="275.82" r="1.15" fill="#e8809f"/>
<circle cx="44.41" cy="273.22" r="1.15" fill="#e8809f"/>
<circle cx="52.42" cy="267.17" r="1.15" fill="#e8809f"/>
<circle cx="52.73" cy="271.83" r="1.15" fill="#e8809f"/>
<circle cx="45.82" cy="271.11" r="1.15" fill="#e8809f"/>
<circle cx="57.62" cy="261.14" r="1.15" fill="#e8809f"/>
<circle cx="59.17" cy="272.48" r="1.15" fill="#e8809f"/>
<circle cx="43.61" cy="261.63" r="1.15" fill="#e8809f"/>
<circle cx="51.50" cy="254.87" r="1.15" fill="#e8809f"/>
<circle cx="47.64" cy="264.64" r="1.15" fill="#e8809f"/>
<circle cx="56.64" cy="262.11" r="1.15" fill="#e8809f"/>
<circle cx="90.05" cy="273.25" r="1.15" fill="#e1262c"/>
<circle cx="95.69" cy="271.54" r="1.15" fill="#e1262c"/>
<circle cx="92.26" cy="274.71" r="1.15" fill="#e1262c"/>
<circle cx="98.19" cy="274.69" r="1.15" fill="#e1262c"/>
<circle cx="95.29" cy="279.74" r="1.15" fill="#e1262c"/>
<circle cx="102.00" cy="271.52" r="1.15" fill="#e1262c"/>
<circle cx="98.60" cy="277.36" r="1.15" fill="#e1262c"/>
<circle cx="100.34" cy="272.78" r="1.15" fill="#e1262c"/>
<circle cx="97.91" cy="274.45" r="1.15" fill="#e1262c"/>
<circle cx="108.09" cy="277.65" r="1.15" fill="#e1262c"/>
<circle cx="95.46" cy="279.93" r="1.15" fill="#e1262c"/>
<circle cx="94.54" cy="276.56" r="1.15" fill="#e1262c"/>
<circle cx="92.87" cy="276.42" r="1.15" fill="#e1262c"/>
<circle cx="110.59" cy="274.98" r="1.15" fill="#e1262c"/>
<circle cx="98.31" cy="268.05" r="1.15" fill="#e1262c"/>
<circle cx="98.65" cy="279.44" r="1.15" fill="#e1262c"/>
<circle cx="101.63" cy="277.13" r="1.15" fill="#e1262c"/>
<circle cx="109.57" cy="278.02" r="1.15" fill="#e1262c"/>
<circle cx="95.31" cy="279.06" r="1.15" fill="#e1262c"/>
<circle cx="99.67" cy="277.36" r="1.15" fill="#e1262c"/>
<circle cx="98.62" cy="275.51" r="1.15" fill="#e1262c"/>
<circle cx="95.10" cy="271.68" r="1.15" fill="#e1262c"/>
<circle cx="105.05" cy="274.23" r="1.15" fill="#e1262c"/>
<circle cx="93.26" cy="277.51" r="1.15" fill="#e1262c"/>
<circle cx="100.77" cy="267.49" r="1.15" fill="#e1262c"/>
<circle cx="96.10" cy="276.69" r="1.15" fill="#e1262c"/>
<circle cx="94.56" cy="277.59" r="1.15" fill="#e1262c"/>
<circle cx="92.79" cy="275.01" r="1.15" fill="#e1262c"/>
<circle cx="108.25" cy="274.42" r="1.15" fill="#e1262c"/>
<circle cx="95.76" cy="279.09" r="1.15" fill="#e1262c"/>
<circle cx="100.41" cy="274.49" r="1.15" fill="#e1262c"/>
<circle cx="91.16" cy="277.56" r="1.15" fill="#e1262c"/>
<circle cx="98.77" cy="271.48" r="1.15" fill="#e1262c"/>
<circle cx="103.07" cy="273.82" r="1.15" fill="#e1262c"/>
<circle cx="96.96" cy="273.49" r="1.15" fill="#e1262c"/>
<circle cx="98.96" cy="268.12" r="1.15" fill="#e1262c"/>
<circle cx="91.76" cy="275.48" r="1.15" fill="#e1262c"/>
<circle cx="107.19" cy="275.18" r="1.15" fill="#e1262c"/>
<circle cx="108.20" cy="274.54" r="1.15" fill="#e1262c"/>
<circle cx="99.97" cy="275.49" r="1.15" fill="#e1262c"/>
<circle cx="126.71" cy="275.46" r="1.15" fill="#e1262c"/>
<circle cx="137.83" cy="276.27" r="1.15" fill="#e1262c"/>
<circle cx="112.09" cy="277.02" r="1.15" fill="#e1262c"/>
<circle cx="123.31" cy="275.23" r="1.15" fill="#e1262c"/>
<circle cx="127.17" cy="269.80" r="1.15" fill="#e1262c"/>
<circle cx="120.81" cy="273.30" r="1.15" fill="#e1262c"/>
<circle cx="124.35" cy="277.47" r="1.15" fill="#e1262c"/>
<circle cx="116.30" cy="276.89" r="1.15" fill="#e1262c"/>
<circle cx="128.64" cy="277.42" r="1.15" fill="#e1262c"/>
<circle cx="130.69" cy="276.27" r="1.15" fill="#e1262c"/>
<circle cx="116.64" cy="273.61" r="1.15" fill="#e1262c"/>
<circle cx="108.18" cy="275.33" r="1.15" fill="#e1262c"/>
<circle cx="111.98" cy="275.43" r="1.15" fill="#e1262c"/>
<circle cx="136.74" cy="278.02" r="1.15" fill="#e1262c"/>
<circle cx="131.75" cy="268.28" r="1.15" fill="#e1262c"/>
<circle cx="138.30" cy="273.15" r="1.15" fill="#e1262c"/>
<circle cx="109.21" cy="273.27" r="1.15" fill="#e1262c"/>
<circle cx="122.71" cy="277.00" r="1.15" fill="#e1262c"/>
<circle cx="139.26" cy="275.38" r="1.15" fill="#e1262c"/>
<circle cx="138.06" cy="272.42" r="1.15" fill="#e1262c"/>
<circle cx="130.90" cy="280.57" r="1.15" fill="#e1262c"/>
<circle cx="134.04" cy="274.11" r="1.15" fill="#e1262c"/>
<circle cx="140.30" cy="273.95" r="1.15" fill="#e1262c"/>
<circle cx="134.60" cy="274.21" r="1.15" fill="#e1262c"/>
<circle cx="124.88" cy="273.70" r="1.15" fill="#e1262c"/>
<circle cx="121.82" cy="275.37" r="1.15" fill="#e1262c"/>
<circle cx="134.10" cy="277.41" r="1.15" fill="#e1262c"/>
<circle cx="127.14" cy="278.31" r="1.15" fill="#e1262c"/>
<circle cx="139.48" cy="279.52" r="1.15" fill="#e1262c"/>
<circle cx="137.49" cy="274.40" r="1.15" fill="#e1262c"/>
<circle cx="155.49" cy="272.84" r="1.15" fill="#e1262c"/>
<circle cx="126.22" cy="277.26" r="1.15" fill="#e1262c"/>
<circle cx="121.42" cy="273.25" r="1.15" fill="#e1262c"/>
<circle cx="141.12" cy="278.60" r="1.15" fill="#e1262c"/>
<circle cx="130.88" cy="276.67" r="1.15" fill="#e1262c"/>
<circle cx="138.81" cy="272.95" r="1.15" fill="#e1262c"/>
<circle cx="139.84" cy="278.66" r="1.15" fill="#e1262c"/>
<circle cx="124.35" cy="278.92" r="1.15" fill="#e1262c"/>
<circle cx="171.00" cy="268.08" r="1.15" fill="#e1262c"/>
<circle cx="183.85" cy="269.71" r="1.15" fill="#e1262c"/>
<circle cx="210.83" cy="275.50" r="1.15" fill="#e1262c"/>
<circle cx="224.97" cy="268.98" r="1.15" fill="#e1262c"/>
<circle cx="151.72" cy="276.95" r="1.15" fill="#e1262c"/>
<circle cx="162.00" cy="275.50" r="1.15" fill="#e1262c"/>
<circle cx="129.88" cy="267.17" r="1.15" fill="#e1262c"/>
<circle cx="109.32" cy="262.47" r="1.15" fill="#e1262c"/>
<circle cx="97.75" cy="264.64" r="1.15" fill="#e1262c"/>
<circle cx="118.31" cy="264.64" r="1.15" fill="#e1262c"/>
<circle cx="102.90" cy="259.21" r="1.15" fill="#e1262c"/>
<circle cx="97.84" cy="279.48" r="1.15" fill="#4a9ad6"/>
<circle cx="105.73" cy="283.88" r="1.15" fill="#4a9ad6"/>
<circle cx="99.30" cy="282.25" r="1.15" fill="#4a9ad6"/>
<circle cx="97.13" cy="280.87" r="1.15" fill="#4a9ad6"/>
<circle cx="96.26" cy="282.85" r="1.15" fill="#4a9ad6"/>
<circle cx="96.07" cy="282.52" r="1.15" fill="#4a9ad6"/>
<circle cx="103.54" cy="281.25" r="1.15" fill="#4a9ad6"/>
<circle cx="91.72" cy="283.02" r="1.15" fill="#4a9ad6"/>
<circle cx="94.17" cy="281.20" r="1.15" fill="#4a9ad6"/>
<circle cx="98.77" cy="281.09" r="1.15" fill="#4a9ad6"/>
<circle cx="97.48" cy="285.14" r="1.15" fill="#4a9ad6"/>
<circle cx="99.78" cy="282.05" r="1.15" fill="#4a9ad6"/>
<circle cx="100.04" cy="284.26" r="1.15" fill="#4a9ad6"/>
<circle cx="98.12" cy="283.37" r="1.15" fill="#4a9ad6"/>
<circle cx="114.46" cy="281.65" r="1.15" fill="#4a9ad6"/>
<circle cx="118.31" cy="281.65" r="1.15" fill="#4a9ad6"/>
<circle cx="133.74" cy="283.46" r="1.15" fill="#4a9ad6"/>
<circle cx="160.72" cy="285.64" r="1.15" fill="#4a9ad6"/>
<circle cx="93.90" cy="288.89" r="1.15" fill="#4a9ad6"/>
<circle cx="57.53" cy="293.70" r="1.15" fill="#244f9f"/>
<circle cx="59.51" cy="291.42" r="1.15" fill="#244f9f"/>
<circle cx="58.71" cy="278.62" r="1.15" fill="#244f9f"/>
<circle cx="57.02" cy="287.71" r="1.15" fill="#244f9f"/>
<circle cx="59.18" cy="280.03" r="1.15" fill="#244f9f"/>
<circle cx="57.55" cy="291.41" r="1.15" fill="#244f9f"/>
<circle cx="55.85" cy="280.97" r="1.15" fill="#244f9f"/>
<circle cx="55.75" cy="297.32" r="1.15" fill="#244f9f"/>
<circle cx="58.25" cy="289.03" r="1.15" fill="#244f9f"/>
<circle cx="58.87" cy="292.86" r="1.15" fill="#244f9f"/>
<circle cx="59.34" cy="297.46" r="1.15" fill="#244f9f"/>
<circle cx="56.45" cy="285.37" r="1.15" fill="#244f9f"/>
<circle cx="55.77" cy="292.76" r="1.15" fill="#244f9f"/>
<circle cx="59.08" cy="284.71" r="1.15" fill="#244f9f"/>
<circle cx="56.80" cy="296.08" r="1.15" fill="#244f9f"/>
<circle cx="57.19" cy="284.05" r="1.15" fill="#244f9f"/>
<circle cx="57.23" cy="296.61" r="1.15" fill="#244f9f"/>
<circle cx="59.00" cy="287.28" r="1.15" fill="#244f9f"/>
<circle cx="60.07" cy="279.64" r="1.15" fill="#244f9f"/>
<circle cx="60.04" cy="289.99" r="1.15" fill="#244f9f"/>
<circle cx="59.48" cy="292.74" r="1.15" fill="#244f9f"/>
<circle cx="56.98" cy="290.78" r="1.15" fill="#244f9f"/>
<circle cx="54.59" cy="281.60" r="1.15" fill="#244f9f"/>
<circle cx="46.66" cy="294.14" r="1.15" fill="#244f9f"/>
<circle cx="48.01" cy="294.10" r="1.15" fill="#244f9f"/>
<circle cx="48.36" cy="293.53" r="1.15" fill="#244f9f"/>
<circle cx="46.04" cy="289.38" r="1.15" fill="#244f9f"/>
<circle cx="53.00" cy="289.93" r="1.15" fill="#244f9f"/>
<circle cx="53.46" cy="289.41" r="1.15" fill="#244f9f"/>
<circle cx="45.83" cy="284.79" r="1.15" fill="#244f9f"/>
<circle cx="53.97" cy="296.03" r="1.15" fill="#244f9f"/>
<circle cx="44.04" cy="290.52" r="1.15" fill="#244f9f"/>
<circle cx="50.08" cy="289.30" r="1.15" fill="#244f9f"/>
<circle cx="54.96" cy="287.33" r="1.15" fill="#244f9f"/>
<circle cx="53.09" cy="301.14" r="1.15" fill="#244f9f"/>
<circle cx="50.11" cy="284.11" r="1.15" fill="#244f9f"/>
<circle cx="44.76" cy="300.73" r="1.15" fill="#244f9f"/>
<circle cx="52.31" cy="281.49" r="1.15" fill="#244f9f"/>
<circle cx="44.76" cy="287.73" r="1.15" fill="#244f9f"/>
<circle cx="45.45" cy="285.10" r="1.15" fill="#244f9f"/>
<circle cx="50.46" cy="312.21" r="1.15" fill="#244f9f"/>
<circle cx="46.05" cy="305.62" r="1.15" fill="#244f9f"/>
<circle cx="49.15" cy="305.63" r="1.15" fill="#244f9f"/>
<circle cx="47.84" cy="311.04" r="1.15" fill="#244f9f"/>
<circle cx="53.74" cy="306.80" r="1.15" fill="#244f9f"/>
<circle cx="48.86" cy="308.51" r="1.15" fill="#244f9f"/>
<circle cx="51.20" cy="306.35" r="1.15" fill="#244f9f"/>
<circle cx="53.19" cy="310.12" r="1.15" fill="#244f9f"/>
<circle cx="42.50" cy="322.92" r="1.15" fill="#244f9f"/>
<circle cx="43.79" cy="325.46" r="1.15" fill="#244f9f"/>
<circle cx="45.07" cy="328.35" r="1.15" fill="#244f9f"/>
<circle cx="48.28" cy="335.59" r="1.15" fill="#244f9f"/>
<circle cx="46.35" cy="348.99" r="1.15" fill="#244f9f"/>
<circle cx="45.07" cy="369.62" r="1.15" fill="#244f9f"/>
<circle cx="43.14" cy="384.82" r="1.15" fill="#244f9f"/>
<circle cx="46.35" cy="401.84" r="1.15" fill="#244f9f"/>
<circle cx="47.00" cy="313.51" r="1.15" fill="#244f9f"/>
<circle cx="50.21" cy="314.60" r="1.15" fill="#244f9f"/>
<circle cx="48.92" cy="311.70" r="1.15" fill="#244f9f"/>
<circle cx="44.43" cy="310.25" r="1.15" fill="#244f9f"/>
<rect x="35.50" y="249.50" width="196.90" height="158.50" fill="none" stroke="#2a2a2a" stroke-width="1.0"/>
<line x1="42.50" y1="408.00" x2="42.50" y2="410.60" stroke="#0a0a0a" stroke-width="0.9"/>
<text transform="translate(42.50,421.57) scale(1,1.07)" font-size="7.2" text-anchor="middle" fill="#151515" stroke="#151515" stroke-width="0.08" font-weight="normal" font-style="normal">2</text>
<line x1="68.20" y1="408.00" x2="68.20" y2="410.60" stroke="#0a0a0a" stroke-width="0.9"/>
<text transform="translate(68.20,421.57) scale(1,1.07)" font-size="7.2" text-anchor="middle" fill="#151515" stroke="#151515" stroke-width="0.08" font-weight="normal" font-style="normal">4</text>
<line x1="93.90" y1="408.00" x2="93.90" y2="410.60" stroke="#0a0a0a" stroke-width="0.9"/>
<text transform="translate(93.90,421.57) scale(1,1.07)" font-size="7.2" text-anchor="middle" fill="#151515" stroke="#151515" stroke-width="0.08" font-weight="normal" font-style="normal">6</text>
<line x1="119.60" y1="408.00" x2="119.60" y2="410.60" stroke="#0a0a0a" stroke-width="0.9"/>
<text transform="translate(119.60,421.57) scale(1,1.07)" font-size="7.2" text-anchor="middle" fill="#151515" stroke="#151515" stroke-width="0.08" font-weight="normal" font-style="normal">8</text>
<line x1="145.30" y1="408.00" x2="145.30" y2="410.60" stroke="#0a0a0a" stroke-width="0.9"/>
<text transform="translate(145.30,421.57) scale(1,1.07)" font-size="7.2" text-anchor="middle" fill="#151515" stroke="#151515" stroke-width="0.08" font-weight="normal" font-style="normal">10</text>
<line x1="171.00" y1="408.00" x2="171.00" y2="410.60" stroke="#0a0a0a" stroke-width="0.9"/>
<text transform="translate(171.00,422.87) scale(1,1.07)" font-size="7.2" text-anchor="middle" fill="#151515" stroke="#151515" stroke-width="0.08" font-weight="normal" font-style="normal">12</text>
<line x1="196.70" y1="408.00" x2="196.70" y2="410.60" stroke="#0a0a0a" stroke-width="0.9"/>
<text transform="translate(196.70,421.57) scale(1,1.07)" font-size="7.2" text-anchor="middle" fill="#151515" stroke="#151515" stroke-width="0.08" font-weight="normal" font-style="normal">14</text>
<line x1="222.40" y1="408.00" x2="222.40" y2="410.60" stroke="#0a0a0a" stroke-width="0.9"/>
<text transform="translate(222.40,421.57) scale(1,1.07)" font-size="7.2" text-anchor="middle" fill="#151515" stroke="#151515" stroke-width="0.08" font-weight="normal" font-style="normal">16</text>
<line x1="32.30" y1="275.50" x2="35.50" y2="275.50" stroke="#0a0a0a" stroke-width="0.9"/>
<text transform="translate(24.90,275.50) rotate(-90)" x="0" y="2.81" font-size="7.8" text-anchor="middle" fill="#151515" stroke="#151515" stroke-width="0.08" font-weight="normal" font-style="normal">0.6</text>
<line x1="32.30" y1="311.70" x2="35.50" y2="311.70" stroke="#0a0a0a" stroke-width="0.9"/>
<text transform="translate(24.90,311.70) rotate(-90)" x="0" y="2.81" font-size="7.8" text-anchor="middle" fill="#151515" stroke="#151515" stroke-width="0.08" font-weight="normal" font-style="normal">0.5</text>
<line x1="32.30" y1="347.90" x2="35.50" y2="347.90" stroke="#0a0a0a" stroke-width="0.9"/>
<text transform="translate(24.90,347.90) rotate(-90)" x="0" y="2.81" font-size="7.8" text-anchor="middle" fill="#151515" stroke="#151515" stroke-width="0.08" font-weight="normal" font-style="normal">0.4</text>
<line x1="32.30" y1="384.10" x2="35.50" y2="384.10" stroke="#0a0a0a" stroke-width="0.9"/>
<text transform="translate(24.90,384.10) rotate(-90)" x="0" y="2.81" font-size="7.8" text-anchor="middle" fill="#151515" stroke="#151515" stroke-width="0.08" font-weight="normal" font-style="normal">0.3</text>
<text transform="translate(134.50,434.10) scale(1,1.07)" font-size="9.6" text-anchor="middle" fill="#111" stroke="#111" stroke-width="0.08" font-weight="normal" font-style="normal">Stromal barrier</text>
<text transform="translate(13.00,329.50) rotate(-90)" x="0" y="3.46" font-size="9.6" text-anchor="middle" fill="#111" stroke="#111" stroke-width="0.08" font-weight="normal" font-style="normal">Stromal clustering</text>
<text transform="translate(265.60,247.81) scale(1,1.07)" font-size="13" text-anchor="start" fill="#000" stroke="#000" stroke-width="0.08" font-weight="bold" font-style="normal">D</text>
<line x1="296.80" y1="247.70" x2="296.80" y2="381.80" stroke="#0a0a0a" stroke-width="1.35"/>
<line x1="296.30" y1="381.30" x2="500.50" y2="381.30" stroke="#0a0a0a" stroke-width="1.35"/>
<line x1="294.80" y1="253.80" x2="296.80" y2="253.80" stroke="#0a0a0a" stroke-width="0.9"/>
<text transform="translate(294.00,256.80) scale(1,1.07)" font-size="7.8" text-anchor="end" fill="#151515" stroke="#151515" stroke-width="0.08" font-weight="normal" font-style="normal">1.00</text>
<line x1="294.80" y1="284.10" x2="296.80" y2="284.10" stroke="#0a0a0a" stroke-width="0.9"/>
<text transform="translate(294.00,287.10) scale(1,1.07)" font-size="7.8" text-anchor="end" fill="#151515" stroke="#151515" stroke-width="0.08" font-weight="normal" font-style="normal">0.75</text>
<line x1="294.80" y1="314.40" x2="296.80" y2="314.40" stroke="#0a0a0a" stroke-width="0.9"/>
<text transform="translate(294.00,317.40) scale(1,1.07)" font-size="7.8" text-anchor="end" fill="#151515" stroke="#151515" stroke-width="0.08" font-weight="normal" font-style="normal">0.50</text>
<line x1="294.80" y1="344.70" x2="296.80" y2="344.70" stroke="#0a0a0a" stroke-width="0.9"/>
<text transform="translate(294.00,347.70) scale(1,1.07)" font-size="7.8" text-anchor="end" fill="#151515" stroke="#151515" stroke-width="0.08" font-weight="normal" font-style="normal">0.25</text>
<line x1="294.80" y1="375.00" x2="296.80" y2="375.00" stroke="#0a0a0a" stroke-width="0.9"/>
<text transform="translate(294.00,378.00) scale(1,1.07)" font-size="7.8" text-anchor="end" fill="#151515" stroke="#151515" stroke-width="0.08" font-weight="normal" font-style="normal">0.00</text>
<line x1="306.00" y1="381.30" x2="306.00" y2="383.30" stroke="#0a0a0a" stroke-width="0.9"/>
<text transform="translate(306.00,390.89) scale(1,1.07)" font-size="7.5" text-anchor="middle" fill="#151515" stroke="#151515" stroke-width="0.08" font-weight="normal" font-style="normal">0</text>
<line x1="358.20" y1="381.30" x2="358.20" y2="383.30" stroke="#0a0a0a" stroke-width="0.9"/>
<text transform="translate(358.20,390.89) scale(1,1.07)" font-size="7.5" text-anchor="middle" fill="#151515" stroke="#151515" stroke-width="0.08" font-weight="normal" font-style="normal">1,000</text>
<line x1="408.50" y1="381.30" x2="408.50" y2="383.30" stroke="#0a0a0a" stroke-width="0.9"/>
<text transform="translate(408.50,390.89) scale(1,1.07)" font-size="7.5" text-anchor="middle" fill="#151515" stroke="#151515" stroke-width="0.08" font-weight="normal" font-style="normal">2,000</text>
<line x1="459.20" y1="381.30" x2="459.20" y2="383.30" stroke="#0a0a0a" stroke-width="0.9"/>
<text transform="translate(459.20,390.89) scale(1,1.07)" font-size="7.5" text-anchor="middle" fill="#151515" stroke="#151515" stroke-width="0.08" font-weight="normal" font-style="normal">3,000</text>
<text transform="translate(405.60,400.25) scale(1,1.07)" font-size="10.0" text-anchor="middle" fill="#111" stroke="#111" stroke-width="0.08" font-weight="normal" font-style="normal">Time</text>
<text transform="translate(264.00,314.40) rotate(-90)" x="0" y="3.35" font-size="9.3" text-anchor="middle" fill="#111" stroke="#111" stroke-width="0.08" font-weight="normal" font-style="normal">Overall survival</text>
<path d="M305.00,253.60H310.60V255.20H314.00V257.50H317.50V259.50H321.00V261.80H325.00V264.00H329.00V265.50H334.60V268.90H339.20V273.00H343.80V276.40H347.90V279.30H351.30V282.20H354.20V285.70H356.00V289.50H372.10V294.30H377.90V298.90H394.60V303.00H397.00V307.70H399.20V311.50H401.50V313.80H403.80V316.20H410.00V318.00H442.50V323.20H452.50V327.50H467.50V332.50H476.20V338.00H487.50V343.00H492.50V348.60H500.00" fill="none" stroke="#dc3a40" stroke-width="1.2" stroke-linejoin="miter"/>
<path d="M305.00,253.60H312.00V255.80H316.00V257.50H320.00V259.50H324.00V261.50H328.00V263.20H332.00V264.80H336.90V266.50H340.00V269.00H343.00V271.50H346.20V273.50H351.30V279.30H360.00V283.30H363.50V286.80H377.90V294.90H405.40V303.00H500.00" fill="none" stroke="#e98ca3" stroke-width="1.1" stroke-linejoin="miter"/>
<path d="M305,253.6H373.6V268.3H382.6V295.4H416.8V375" fill="none" stroke="#6aaede" stroke-width="1.1" stroke-linejoin="miter"/>
<path d="M305,253.6H327V256.6H348.2V267.2H360.2V272.6H380.8V278.7H403V283.6H407.2V290.4H500" fill="none" stroke="#3b5b96" stroke-width="1.2" stroke-linejoin="miter"/>
<line x1="423.75" y1="288.00" x2="423.75" y2="290.70" stroke="#3b5b96" stroke-width="0.9"/>
<line x1="430.00" y1="288.00" x2="430.00" y2="290.70" stroke="#3b5b96" stroke-width="0.9"/>
<line x1="444.50" y1="288.00" x2="444.50" y2="290.70" stroke="#3b5b96" stroke-width="0.9"/>
<line x1="452.50" y1="288.00" x2="452.50" y2="290.70" stroke="#3b5b96" stroke-width="0.9"/>
<line x1="468.00" y1="288.00" x2="468.00" y2="290.70" stroke="#3b5b96" stroke-width="0.9"/>
<line x1="473.75" y1="288.00" x2="473.75" y2="290.70" stroke="#3b5b96" stroke-width="0.9"/>
<line x1="306.00" y1="251.00" x2="306.00" y2="253.90" stroke="#3b5b96" stroke-width="1.0"/>
<line x1="308.00" y1="251.00" x2="308.00" y2="253.90" stroke="#3b5b96" stroke-width="1.0"/>
<line x1="310.00" y1="251.00" x2="310.00" y2="253.90" stroke="#3b5b96" stroke-width="1.0"/>
<line x1="312.00" y1="251.00" x2="312.00" y2="253.90" stroke="#3b5b96" stroke-width="1.0"/>
<line x1="314.00" y1="251.00" x2="314.00" y2="253.90" stroke="#3b5b96" stroke-width="1.0"/>
<line x1="316.00" y1="251.00" x2="316.00" y2="253.90" stroke="#3b5b96" stroke-width="1.0"/>
<line x1="318.00" y1="251.00" x2="318.00" y2="253.90" stroke="#3b5b96" stroke-width="1.0"/>
<line x1="320.00" y1="251.00" x2="320.00" y2="253.90" stroke="#3b5b96" stroke-width="1.0"/>
<line x1="322.00" y1="251.00" x2="322.00" y2="253.90" stroke="#3b5b96" stroke-width="1.0"/>
<line x1="324.00" y1="251.00" x2="324.00" y2="253.90" stroke="#3b5b96" stroke-width="1.0"/>
<line x1="326.00" y1="251.00" x2="326.00" y2="253.90" stroke="#3b5b96" stroke-width="1.0"/>
<line x1="307.00" y1="251.00" x2="307.00" y2="253.90" stroke="#e98ca3" stroke-width="1.0"/>
<line x1="309.00" y1="251.00" x2="309.00" y2="253.90" stroke="#e98ca3" stroke-width="1.0"/>
<line x1="311.00" y1="251.00" x2="311.00" y2="253.90" stroke="#e98ca3" stroke-width="1.0"/>
<line x1="315.00" y1="251.00" x2="315.00" y2="253.90" stroke="#e98ca3" stroke-width="1.0"/>
<line x1="319.00" y1="251.00" x2="319.00" y2="253.90" stroke="#e98ca3" stroke-width="1.0"/>
<line x1="323.00" y1="251.00" x2="323.00" y2="253.90" stroke="#e98ca3" stroke-width="1.0"/>
<line x1="340.00" y1="254.20" x2="340.00" y2="256.90" stroke="#3b5b96" stroke-width="0.9"/>
<line x1="345.00" y1="254.20" x2="345.00" y2="256.90" stroke="#3b5b96" stroke-width="0.9"/>
<line x1="338.50" y1="251.40" x2="338.50" y2="253.90" stroke="#6aaede" stroke-width="0.8"/>
<line x1="345.20" y1="251.40" x2="345.20" y2="253.90" stroke="#6aaede" stroke-width="0.8"/>
<line x1="347.00" y1="251.40" x2="347.00" y2="253.90" stroke="#6aaede" stroke-width="0.8"/>
<line x1="356.70" y1="251.40" x2="356.70" y2="253.90" stroke="#6aaede" stroke-width="0.8"/>
<line x1="377.00" y1="266.60" x2="377.00" y2="269.10" stroke="#6aaede" stroke-width="0.8"/>
<line x1="380.80" y1="266.60" x2="380.80" y2="269.10" stroke="#6aaede" stroke-width="0.8"/>
<line x1="431.00" y1="300.80" x2="431.00" y2="303.30" stroke="#e98ca3" stroke-width="0.8"/>
<line x1="453.75" y1="300.80" x2="453.75" y2="303.30" stroke="#e98ca3" stroke-width="0.8"/>
<line x1="463.75" y1="300.80" x2="463.75" y2="303.30" stroke="#e98ca3" stroke-width="0.8"/>
<line x1="466.00" y1="300.80" x2="466.00" y2="303.30" stroke="#e98ca3" stroke-width="0.8"/>
<line x1="343.00" y1="269.30" x2="343.00" y2="271.80" stroke="#e98ca3" stroke-width="0.8"/>
<line x1="352.00" y1="277.10" x2="352.00" y2="279.60" stroke="#e98ca3" stroke-width="0.8"/>
<line x1="365.00" y1="284.60" x2="365.00" y2="287.10" stroke="#e98ca3" stroke-width="0.8"/>
<line x1="372.00" y1="284.60" x2="372.00" y2="287.10" stroke="#e98ca3" stroke-width="0.8"/>
<line x1="385.00" y1="292.70" x2="385.00" y2="295.20" stroke="#e98ca3" stroke-width="0.8"/>
<line x1="365.00" y1="287.30" x2="365.00" y2="289.80" stroke="#dc3a40" stroke-width="0.8"/>
<line x1="368.00" y1="287.30" x2="368.00" y2="289.80" stroke="#dc3a40" stroke-width="0.8"/>
<line x1="372.00" y1="287.30" x2="372.00" y2="289.80" stroke="#dc3a40" stroke-width="0.8"/>
<line x1="398.00" y1="305.50" x2="398.00" y2="308.00" stroke="#dc3a40" stroke-width="0.8"/>
<line x1="400.00" y1="309.30" x2="400.00" y2="311.80" stroke="#dc3a40" stroke-width="0.8"/>
<line x1="413.00" y1="315.80" x2="413.00" y2="318.30" stroke="#dc3a40" stroke-width="0.8"/>
<line x1="421.00" y1="315.80" x2="421.00" y2="318.30" stroke="#dc3a40" stroke-width="0.8"/>
<line x1="445.00" y1="321.00" x2="445.00" y2="323.50" stroke="#dc3a40" stroke-width="0.8"/>
<line x1="456.00" y1="325.30" x2="456.00" y2="327.80" stroke="#dc3a40" stroke-width="0.8"/>
<line x1="470.00" y1="330.30" x2="470.00" y2="332.80" stroke="#dc3a40" stroke-width="0.8"/>
<line x1="302.20" y1="339.20" x2="307.60" y2="339.20" stroke="#dc3a40" stroke-width="1.0"/>
<path d="M303.30,339.40L304.9,336.00L306.50,339.40Z" fill="#dc3a40"/>
<text transform="translate(309.60,341.60) scale(1,1.07)" font-size="7.8" text-anchor="start" fill="#151515" stroke="#151515" stroke-width="0.08" font-weight="normal" font-style="normal">High clustering, high barrier</text>
<line x1="302.20" y1="349.35" x2="307.60" y2="349.35" stroke="#e98ca3" stroke-width="1.0"/>
<path d="M303.30,349.55L304.9,346.15L306.50,349.55Z" fill="#e98ca3"/>
<text transform="translate(309.60,351.75) scale(1,1.07)" font-size="7.8" text-anchor="start" fill="#151515" stroke="#151515" stroke-width="0.08" font-weight="normal" font-style="normal">High clustering, low barrier</text>
<line x1="302.20" y1="359.50" x2="307.60" y2="359.50" stroke="#6aaede" stroke-width="1.0"/>
<path d="M303.30,359.70L304.9,356.30L306.50,359.70Z" fill="#6aaede"/>
<text transform="translate(309.60,361.90) scale(1,1.07)" font-size="7.8" text-anchor="start" fill="#151515" stroke="#151515" stroke-width="0.08" font-weight="normal" font-style="normal">Low clustering, high barrier</text>
<line x1="302.20" y1="369.65" x2="307.60" y2="369.65" stroke="#3b5b96" stroke-width="1.0"/>
<path d="M303.30,369.85L304.9,366.45L306.50,369.85Z" fill="#3b5b96"/>
<text transform="translate(309.60,372.05) scale(1,1.07)" font-size="7.8" text-anchor="start" fill="#151515" stroke="#151515" stroke-width="0.08" font-weight="normal" font-style="normal">Low clustering, low barrier</text>
<text transform="translate(297.50,404.19) scale(1,1.07)" font-size="7.5" text-anchor="start" fill="#151515" stroke="#151515" stroke-width="0.08" font-weight="normal" font-style="normal">Number at risk</text>
<line x1="296.50" y1="408.30" x2="296.50" y2="436.00" stroke="#0a0a0a" stroke-width="1.35"/>
<line x1="296.00" y1="435.60" x2="500.50" y2="435.60" stroke="#0a0a0a" stroke-width="1.35"/>
<line x1="284.20" y1="414.10" x2="287.80" y2="414.10" stroke="#d43d4a" stroke-width="1.2"/>
<text transform="translate(307.60,413.87) scale(1,1.07)" font-size="7.2" text-anchor="middle" fill="#d43d4a" stroke="#d43d4a" stroke-width="0.08" font-weight="normal" font-style="normal">75</text>
<text transform="translate(357.80,413.87) scale(1,1.07)" font-size="7.2" text-anchor="middle" fill="#d43d4a" stroke="#d43d4a" stroke-width="0.08" font-weight="normal" font-style="normal">34</text>
<text transform="translate(408.80,413.87) scale(1,1.07)" font-size="7.2" text-anchor="middle" fill="#d43d4a" stroke="#d43d4a" stroke-width="0.08" font-weight="normal" font-style="normal">18</text>
<text transform="translate(460.00,413.87) scale(1,1.07)" font-size="7.2" text-anchor="middle" fill="#d43d4a" stroke="#d43d4a" stroke-width="0.08" font-weight="normal" font-style="normal">11</text>
<line x1="284.20" y1="420.70" x2="287.80" y2="420.70" stroke="#e890a8" stroke-width="1.2"/>
<text transform="translate(307.60,420.47) scale(1,1.07)" font-size="7.2" text-anchor="middle" fill="#e890a8" stroke="#e890a8" stroke-width="0.08" font-weight="normal" font-style="normal">42</text>
<text transform="translate(357.80,420.47) scale(1,1.07)" font-size="7.2" text-anchor="middle" fill="#e890a8" stroke="#e890a8" stroke-width="0.08" font-weight="normal" font-style="normal">22</text>
<text transform="translate(408.80,420.47) scale(1,1.07)" font-size="7.2" text-anchor="middle" fill="#e890a8" stroke="#e890a8" stroke-width="0.08" font-weight="normal" font-style="normal">9</text>
<text transform="translate(460.00,420.47) scale(1,1.07)" font-size="7.2" text-anchor="middle" fill="#e890a8" stroke="#e890a8" stroke-width="0.08" font-weight="normal" font-style="normal">7</text>
<line x1="284.20" y1="427.30" x2="287.80" y2="427.30" stroke="#6aaed8" stroke-width="1.2"/>
<text transform="translate(307.60,427.07) scale(1,1.07)" font-size="7.2" text-anchor="middle" fill="#6aaed8" stroke="#6aaed8" stroke-width="0.08" font-weight="normal" font-style="normal">20</text>
<text transform="translate(357.80,427.07) scale(1,1.07)" font-size="7.2" text-anchor="middle" fill="#6aaed8" stroke="#6aaed8" stroke-width="0.08" font-weight="normal" font-style="normal">9</text>
<text transform="translate(408.80,427.07) scale(1,1.07)" font-size="7.2" text-anchor="middle" fill="#6aaed8" stroke="#6aaed8" stroke-width="0.08" font-weight="normal" font-style="normal">1</text>
<text transform="translate(460.00,427.07) scale(1,1.07)" font-size="7.2" text-anchor="middle" fill="#6aaed8" stroke="#6aaed8" stroke-width="0.08" font-weight="normal" font-style="normal">0</text>
<line x1="284.20" y1="433.90" x2="287.80" y2="433.90" stroke="#3a5a98" stroke-width="1.2"/>
<text transform="translate(307.60,433.67) scale(1,1.07)" font-size="7.2" text-anchor="middle" fill="#3a5a98" stroke="#3a5a98" stroke-width="0.08" font-weight="normal" font-style="normal">53</text>
<text transform="translate(357.80,433.67) scale(1,1.07)" font-size="7.2" text-anchor="middle" fill="#3a5a98" stroke="#3a5a98" stroke-width="0.08" font-weight="normal" font-style="normal">22</text>
<text transform="translate(408.80,433.67) scale(1,1.07)" font-size="7.2" text-anchor="middle" fill="#3a5a98" stroke="#3a5a98" stroke-width="0.08" font-weight="normal" font-style="normal">14</text>
<text transform="translate(460.00,433.67) scale(1,1.07)" font-size="7.2" text-anchor="middle" fill="#3a5a98" stroke="#3a5a98" stroke-width="0.08" font-weight="normal" font-style="normal">8</text>
<line x1="306.20" y1="435.60" x2="306.20" y2="437.60" stroke="#0a0a0a" stroke-width="0.9"/>
<text transform="translate(306.20,444.07) scale(1,1.07)" font-size="7.2" text-anchor="middle" fill="#151515" stroke="#151515" stroke-width="0.08" font-weight="normal" font-style="normal">0</text>
<line x1="359.00" y1="435.60" x2="359.00" y2="437.60" stroke="#0a0a0a" stroke-width="0.9"/>
<text transform="translate(359.00,444.07) scale(1,1.07)" font-size="7.2" text-anchor="middle" fill="#151515" stroke="#151515" stroke-width="0.08" font-weight="normal" font-style="normal">1,000</text>
<line x1="409.50" y1="435.60" x2="409.50" y2="437.60" stroke="#0a0a0a" stroke-width="0.9"/>
<text transform="translate(409.50,444.07) scale(1,1.07)" font-size="7.2" text-anchor="middle" fill="#151515" stroke="#151515" stroke-width="0.08" font-weight="normal" font-style="normal">2,000</text>
<line x1="460.00" y1="435.60" x2="460.00" y2="437.60" stroke="#0a0a0a" stroke-width="0.9"/>
<text transform="translate(460.00,444.07) scale(1,1.07)" font-size="7.2" text-anchor="middle" fill="#151515" stroke="#151515" stroke-width="0.08" font-weight="normal" font-style="normal">3,000</text>
<text transform="translate(407.00,455.85) scale(1,1.07)" font-size="10.0" text-anchor="middle" fill="#111" stroke="#111" stroke-width="0.08" font-weight="normal" font-style="normal">Time</text>
<text transform="translate(7.60,470.21) scale(1,1.07)" font-size="13" text-anchor="start" fill="#000" stroke="#000" stroke-width="0.08" font-weight="bold" font-style="normal">E</text>
<line x1="66.80" y1="494.50" x2="66.80" y2="624.00" stroke="#0a0a0a" stroke-width="1.0"/>
<line x1="63.80" y1="624.00" x2="66.80" y2="624.00" stroke="#0a0a0a" stroke-width="0.9"/>
<text transform="translate(56.90,623.20) rotate(-90)" x="0" y="2.66" font-size="7.4" text-anchor="middle" fill="#151515" stroke="#151515" stroke-width="0.08" font-weight="normal" font-style="normal">0.0</text>
<line x1="63.80" y1="591.62" x2="66.80" y2="591.62" stroke="#0a0a0a" stroke-width="0.9"/>
<text transform="translate(56.90,590.83) rotate(-90)" x="0" y="2.66" font-size="7.4" text-anchor="middle" fill="#151515" stroke="#151515" stroke-width="0.08" font-weight="normal" font-style="normal">0.1</text>
<line x1="63.80" y1="559.25" x2="66.80" y2="559.25" stroke="#0a0a0a" stroke-width="0.9"/>
<text transform="translate(56.90,558.45) rotate(-90)" x="0" y="2.66" font-size="7.4" text-anchor="middle" fill="#151515" stroke="#151515" stroke-width="0.08" font-weight="normal" font-style="normal">0.2</text>
<line x1="63.80" y1="526.88" x2="66.80" y2="526.88" stroke="#0a0a0a" stroke-width="0.9"/>
<text transform="translate(56.90,526.08) rotate(-90)" x="0" y="2.66" font-size="7.4" text-anchor="middle" fill="#151515" stroke="#151515" stroke-width="0.08" font-weight="normal" font-style="normal">0.3</text>
<line x1="63.80" y1="494.50" x2="66.80" y2="494.50" stroke="#0a0a0a" stroke-width="0.9"/>
<text transform="translate(56.90,493.70) rotate(-90)" x="0" y="2.66" font-size="7.4" text-anchor="middle" fill="#151515" stroke="#151515" stroke-width="0.08" font-weight="normal" font-style="normal">0.4</text>
<text transform="translate(43.40,558.00) rotate(-90)" x="0" y="3.42" font-size="9.5" text-anchor="middle" fill="#111" stroke="#111" stroke-width="0.08" font-weight="normal" font-style="normal">Lymphocyte%</text>
<line x1="126.80" y1="627.60" x2="401.60" y2="627.60" stroke="#0a0a0a" stroke-width="1.0"/>
<line x1="126.80" y1="627.60" x2="126.80" y2="630.60" stroke="#0a0a0a" stroke-width="1.0"/>
<line x1="218.60" y1="627.60" x2="218.60" y2="630.60" stroke="#0a0a0a" stroke-width="1.0"/>
<line x1="310.40" y1="627.60" x2="310.40" y2="630.60" stroke="#0a0a0a" stroke-width="1.0"/>
<line x1="401.60" y1="627.60" x2="401.60" y2="630.60" stroke="#0a0a0a" stroke-width="1.0"/>
<text transform="translate(126.60,641.06) scale(1,1.07)" font-size="9.5" text-anchor="middle" fill="#111" stroke="#111" stroke-width="0.08" font-weight="normal" font-style="normal">High clustering,</text>
<text transform="translate(126.60,652.86) scale(1,1.07)" font-size="9.5" text-anchor="middle" fill="#111" stroke="#111" stroke-width="0.08" font-weight="normal" font-style="normal">high barrier</text>
<text transform="translate(220.60,641.06) scale(1,1.07)" font-size="9.5" text-anchor="middle" fill="#111" stroke="#111" stroke-width="0.08" font-weight="normal" font-style="normal">High clustering,</text>
<text transform="translate(220.60,652.86) scale(1,1.07)" font-size="9.5" text-anchor="middle" fill="#111" stroke="#111" stroke-width="0.08" font-weight="normal" font-style="normal">low barrier</text>
<text transform="translate(313.60,641.06) scale(1,1.07)" font-size="9.5" text-anchor="middle" fill="#111" stroke="#111" stroke-width="0.08" font-weight="normal" font-style="normal">Low clustering,</text>
<text transform="translate(313.60,652.86) scale(1,1.07)" font-size="9.5" text-anchor="middle" fill="#111" stroke="#111" stroke-width="0.08" font-weight="normal" font-style="normal">high barrier</text>
<text transform="translate(401.80,641.06) scale(1,1.07)" font-size="9.5" text-anchor="middle" fill="#111" stroke="#111" stroke-width="0.08" font-weight="normal" font-style="normal">Low clustering,</text>
<text transform="translate(401.80,652.86) scale(1,1.07)" font-size="9.5" text-anchor="middle" fill="#111" stroke="#111" stroke-width="0.08" font-weight="normal" font-style="normal">low barrier</text>
<line x1="124.60" y1="473.70" x2="401.80" y2="473.70" stroke="#777" stroke-width="0.8"/>
<line x1="124.60" y1="473.70" x2="124.60" y2="480.60" stroke="#777" stroke-width="0.8"/>
<line x1="401.80" y1="473.70" x2="401.80" y2="480.60" stroke="#777" stroke-width="0.8"/>
<line x1="124.60" y1="487.40" x2="310.00" y2="487.40" stroke="#777" stroke-width="0.8"/>
<line x1="124.60" y1="487.40" x2="124.60" y2="494.30" stroke="#777" stroke-width="0.8"/>
<line x1="310.00" y1="487.40" x2="310.00" y2="494.30" stroke="#777" stroke-width="0.8"/>
<text transform="translate(232.6,470.2) scale(1,1.07)" font-size="7.4" fill="#151515" stroke="#151515" stroke-width="0.08"><tspan font-style="italic">P</tspan> = 4.6 × 10<tspan font-size="5" dy="-3.2">−11</tspan></text>
<text transform="translate(189.2,483.6) scale(1,1.07)" font-size="7.4" fill="#151515" stroke="#151515" stroke-width="0.08"><tspan font-style="italic">P</tspan> = 3.1 × 10<tspan font-size="5" dy="-3.2">−8</tspan></text>
<line x1="127.20" y1="567.99" x2="127.20" y2="535.62" stroke="#d8262c" stroke-width="0.8" stroke-dasharray="2.4,1.8" stroke-opacity="0.75"/>
<line x1="127.20" y1="598.75" x2="127.20" y2="622.38" stroke="#d8262c" stroke-width="0.8" stroke-dasharray="2.4,1.8" stroke-opacity="0.75"/>
<line x1="108.60" y1="535.62" x2="145.80" y2="535.62" stroke="#d8262c" stroke-width="1.0"/>
<line x1="108.60" y1="622.38" x2="145.80" y2="622.38" stroke="#d8262c" stroke-width="1.0"/>
<rect x="90.30" y="567.99" width="73.80" height="30.76" fill="none" stroke="#c64a4a" stroke-width="1.0"/>
<line x1="90.30" y1="584.18" x2="164.10" y2="584.18" stroke="#d8262c" stroke-width="2.8"/>
<circle cx="133.10" cy="604.43" r="1.05" fill="#d8262c"/>
<circle cx="135.65" cy="545.95" r="1.05" fill="#d8262c"/>
<circle cx="136.07" cy="584.43" r="1.05" fill="#d8262c"/>
<circle cx="119.46" cy="600.93" r="1.05" fill="#d8262c"/>
<circle cx="128.08" cy="591.16" r="1.05" fill="#d8262c"/>
<circle cx="121.53" cy="620.47" r="1.05" fill="#d8262c"/>
<circle cx="132.51" cy="570.56" r="1.05" fill="#d8262c"/>
<circle cx="119.98" cy="574.23" r="1.05" fill="#d8262c"/>
<circle cx="117.24" cy="617.97" r="1.05" fill="#d8262c"/>
<circle cx="121.51" cy="561.75" r="1.05" fill="#d8262c"/>
<circle cx="122.99" cy="542.01" r="1.05" fill="#d8262c"/>
<circle cx="130.76" cy="551.93" r="1.05" fill="#d8262c"/>
<circle cx="131.01" cy="569.81" r="1.05" fill="#d8262c"/>
<circle cx="123.18" cy="541.37" r="1.05" fill="#d8262c"/>
<circle cx="120.11" cy="593.64" r="1.05" fill="#d8262c"/>
<circle cx="129.26" cy="589.48" r="1.05" fill="#d8262c"/>
<circle cx="123.96" cy="577.90" r="1.05" fill="#d8262c"/>
<circle cx="126.81" cy="573.57" r="1.05" fill="#d8262c"/>
<circle cx="131.29" cy="583.95" r="1.05" fill="#d8262c"/>
<circle cx="117.66" cy="568.76" r="1.05" fill="#d8262c"/>
<circle cx="117.56" cy="602.16" r="1.05" fill="#d8262c"/>
<circle cx="128.77" cy="557.08" r="1.05" fill="#d8262c"/>
<circle cx="120.82" cy="597.31" r="1.05" fill="#d8262c"/>
<circle cx="132.31" cy="562.14" r="1.05" fill="#d8262c"/>
<circle cx="124.09" cy="539.93" r="1.05" fill="#d8262c"/>
<circle cx="132.71" cy="582.61" r="1.05" fill="#d8262c"/>
<circle cx="133.14" cy="575.73" r="1.05" fill="#d8262c"/>
<circle cx="136.12" cy="566.90" r="1.05" fill="#d8262c"/>
<circle cx="129.42" cy="588.27" r="1.05" fill="#d8262c"/>
<circle cx="135.68" cy="557.87" r="1.05" fill="#d8262c"/>
<circle cx="123.54" cy="613.88" r="1.05" fill="#d8262c"/>
<circle cx="120.18" cy="596.34" r="1.05" fill="#d8262c"/>
<circle cx="120.43" cy="598.82" r="1.05" fill="#d8262c"/>
<circle cx="127.87" cy="568.40" r="1.05" fill="#d8262c"/>
<circle cx="129.08" cy="591.45" r="1.05" fill="#d8262c"/>
<circle cx="125.64" cy="554.42" r="1.05" fill="#d8262c"/>
<circle cx="117.85" cy="570.57" r="1.05" fill="#d8262c"/>
<circle cx="119.81" cy="572.96" r="1.05" fill="#d8262c"/>
<circle cx="129.81" cy="599.85" r="1.05" fill="#d8262c"/>
<circle cx="125.89" cy="564.82" r="1.05" fill="#d8262c"/>
<circle cx="123.10" cy="572.77" r="1.05" fill="#d8262c"/>
<circle cx="134.25" cy="568.01" r="1.05" fill="#d8262c"/>
<circle cx="126.96" cy="554.48" r="1.05" fill="#d8262c"/>
<circle cx="123.02" cy="610.22" r="1.05" fill="#d8262c"/>
<circle cx="124.74" cy="594.24" r="1.05" fill="#d8262c"/>
<circle cx="129.74" cy="539.40" r="1.05" fill="#d8262c"/>
<circle cx="118.98" cy="588.34" r="1.05" fill="#d8262c"/>
<circle cx="134.55" cy="574.70" r="1.05" fill="#d8262c"/>
<circle cx="132.70" cy="574.57" r="1.05" fill="#d8262c"/>
<circle cx="132.39" cy="606.14" r="1.05" fill="#d8262c"/>
<circle cx="122.82" cy="577.08" r="1.05" fill="#d8262c"/>
<circle cx="131.02" cy="575.07" r="1.05" fill="#d8262c"/>
<circle cx="130.19" cy="569.67" r="1.05" fill="#d8262c"/>
<circle cx="128.14" cy="620.51" r="1.05" fill="#d8262c"/>
<circle cx="126.46" cy="578.09" r="1.05" fill="#d8262c"/>
<circle cx="133.15" cy="548.71" r="1.05" fill="#d8262c"/>
<circle cx="131.96" cy="578.94" r="1.05" fill="#d8262c"/>
<circle cx="134.06" cy="557.57" r="1.05" fill="#d8262c"/>
<circle cx="136.72" cy="547.49" r="1.05" fill="#d8262c"/>
<circle cx="127.79" cy="552.56" r="1.05" fill="#d8262c"/>
<circle cx="135.95" cy="573.02" r="1.05" fill="#d8262c"/>
<circle cx="131.59" cy="577.48" r="1.05" fill="#d8262c"/>
<circle cx="132.81" cy="616.98" r="1.05" fill="#d8262c"/>
<circle cx="125.62" cy="606.11" r="1.05" fill="#d8262c"/>
<circle cx="129.94" cy="603.71" r="1.05" fill="#d8262c"/>
<circle cx="120.40" cy="620.15" r="1.05" fill="#d8262c"/>
<circle cx="121.58" cy="578.75" r="1.05" fill="#d8262c"/>
<circle cx="118.04" cy="606.87" r="1.05" fill="#d8262c"/>
<circle cx="118.28" cy="591.79" r="1.05" fill="#d8262c"/>
<circle cx="120.83" cy="588.99" r="1.05" fill="#d8262c"/>
<circle cx="126.51" cy="597.65" r="1.05" fill="#d8262c"/>
<circle cx="129.00" cy="579.93" r="1.05" fill="#d8262c"/>
<circle cx="117.21" cy="570.97" r="1.05" fill="#d8262c"/>
<circle cx="125.40" cy="590.18" r="1.05" fill="#d8262c"/>
<circle cx="124.68" cy="573.18" r="1.05" fill="#d8262c"/>
<circle cx="119.10" cy="579.88" r="1.05" fill="#d8262c"/>
<circle cx="128.82" cy="613.29" r="1.05" fill="#d8262c"/>
<circle cx="125.58" cy="543.61" r="1.05" fill="#d8262c"/>
<circle cx="124.59" cy="548.86" r="1.05" fill="#d8262c"/>
<circle cx="128.48" cy="580.42" r="1.05" fill="#d8262c"/>
<circle cx="123.90" cy="501.95" r="1.05" fill="#d8262c"/>
<circle cx="135.20" cy="510.04" r="1.05" fill="#d8262c"/>
<circle cx="118.20" cy="535.62" r="1.05" fill="#d8262c"/>
<line x1="218.50" y1="565.73" x2="218.50" y2="543.06" stroke="#e7709a" stroke-width="0.8" stroke-dasharray="2.4,1.8" stroke-opacity="0.75"/>
<line x1="218.50" y1="590.65" x2="218.50" y2="611.05" stroke="#e7709a" stroke-width="0.8" stroke-dasharray="2.4,1.8" stroke-opacity="0.75"/>
<line x1="199.90" y1="543.06" x2="237.10" y2="543.06" stroke="#e7709a" stroke-width="1.0"/>
<line x1="199.90" y1="611.05" x2="237.10" y2="611.05" stroke="#e7709a" stroke-width="1.0"/>
<rect x="181.60" y="565.73" width="73.80" height="24.93" fill="none" stroke="#e27a9c" stroke-width="1.0"/>
<line x1="181.60" y1="577.06" x2="255.40" y2="577.06" stroke="#e7709a" stroke-width="2.8"/>
<circle cx="220.67" cy="545.35" r="1.05" fill="#e7709a"/>
<circle cx="208.52" cy="568.38" r="1.05" fill="#e7709a"/>
<circle cx="220.80" cy="576.55" r="1.05" fill="#e7709a"/>
<circle cx="226.33" cy="574.96" r="1.05" fill="#e7709a"/>
<circle cx="213.03" cy="579.89" r="1.05" fill="#e7709a"/>
<circle cx="216.10" cy="566.41" r="1.05" fill="#e7709a"/>
<circle cx="220.42" cy="546.50" r="1.05" fill="#e7709a"/>
<circle cx="218.43" cy="566.20" r="1.05" fill="#e7709a"/>
<circle cx="228.19" cy="582.70" r="1.05" fill="#e7709a"/>
<circle cx="218.04" cy="583.51" r="1.05" fill="#e7709a"/>
<circle cx="217.37" cy="575.16" r="1.05" fill="#e7709a"/>
<circle cx="225.04" cy="571.17" r="1.05" fill="#e7709a"/>
<circle cx="213.98" cy="577.38" r="1.05" fill="#e7709a"/>
<circle cx="213.41" cy="549.27" r="1.05" fill="#e7709a"/>
<circle cx="228.28" cy="586.80" r="1.05" fill="#e7709a"/>
<circle cx="217.99" cy="575.50" r="1.05" fill="#e7709a"/>
<circle cx="223.37" cy="598.09" r="1.05" fill="#e7709a"/>
<circle cx="214.51" cy="571.70" r="1.05" fill="#e7709a"/>
<circle cx="214.44" cy="603.12" r="1.05" fill="#e7709a"/>
<circle cx="215.72" cy="600.71" r="1.05" fill="#e7709a"/>
<circle cx="209.23" cy="598.34" r="1.05" fill="#e7709a"/>
<circle cx="226.83" cy="579.30" r="1.05" fill="#e7709a"/>
<circle cx="208.79" cy="554.24" r="1.05" fill="#e7709a"/>
<circle cx="220.01" cy="556.72" r="1.05" fill="#e7709a"/>
<circle cx="218.14" cy="597.56" r="1.05" fill="#e7709a"/>
<circle cx="216.34" cy="557.61" r="1.05" fill="#e7709a"/>
<circle cx="214.43" cy="561.59" r="1.05" fill="#e7709a"/>
<circle cx="225.23" cy="564.33" r="1.05" fill="#e7709a"/>
<circle cx="214.23" cy="601.30" r="1.05" fill="#e7709a"/>
<circle cx="211.35" cy="546.56" r="1.05" fill="#e7709a"/>
<circle cx="218.45" cy="576.97" r="1.05" fill="#e7709a"/>
<circle cx="220.22" cy="586.83" r="1.05" fill="#e7709a"/>
<circle cx="213.10" cy="564.29" r="1.05" fill="#e7709a"/>
<circle cx="221.77" cy="549.06" r="1.05" fill="#e7709a"/>
<circle cx="228.07" cy="572.64" r="1.05" fill="#e7709a"/>
<circle cx="209.48" cy="550.97" r="1.05" fill="#e7709a"/>
<circle cx="221.41" cy="561.11" r="1.05" fill="#e7709a"/>
<circle cx="211.19" cy="550.73" r="1.05" fill="#e7709a"/>
<circle cx="211.49" cy="567.77" r="1.05" fill="#e7709a"/>
<circle cx="211.72" cy="601.66" r="1.05" fill="#e7709a"/>
<circle cx="210.66" cy="608.61" r="1.05" fill="#e7709a"/>
<circle cx="209.65" cy="588.86" r="1.05" fill="#e7709a"/>
<circle cx="212.20" cy="512.95" r="1.05" fill="#e7709a"/>
<circle cx="209.50" cy="611.05" r="1.05" fill="#e7709a"/>
<line x1="309.80" y1="515.87" x2="309.80" y2="504.86" stroke="#3d9bd9" stroke-width="0.8" stroke-dasharray="2.4,1.8" stroke-opacity="0.75"/>
<line x1="309.80" y1="552.77" x2="309.80" y2="585.15" stroke="#3d9bd9" stroke-width="0.8" stroke-dasharray="2.4,1.8" stroke-opacity="0.75"/>
<line x1="291.20" y1="504.86" x2="328.40" y2="504.86" stroke="#3d9bd9" stroke-width="1.0"/>
<line x1="291.20" y1="585.15" x2="328.40" y2="585.15" stroke="#3d9bd9" stroke-width="1.0"/>
<rect x="272.90" y="515.87" width="73.80" height="36.91" fill="none" stroke="#5aa6d8" stroke-width="1.0"/>
<line x1="272.90" y1="539.02" x2="346.70" y2="539.02" stroke="#3d9bd9" stroke-width="2.8"/>
<circle cx="317.37" cy="560.70" r="1.05" fill="#3d9bd9"/>
<circle cx="306.09" cy="536.84" r="1.05" fill="#3d9bd9"/>
<circle cx="318.57" cy="568.47" r="1.05" fill="#3d9bd9"/>
<circle cx="313.75" cy="550.72" r="1.05" fill="#3d9bd9"/>
<circle cx="309.92" cy="529.47" r="1.05" fill="#3d9bd9"/>
<circle cx="312.22" cy="510.30" r="1.05" fill="#3d9bd9"/>
<circle cx="304.88" cy="532.41" r="1.05" fill="#3d9bd9"/>
<circle cx="302.48" cy="510.68" r="1.05" fill="#3d9bd9"/>
<circle cx="314.54" cy="539.07" r="1.05" fill="#3d9bd9"/>
<circle cx="312.90" cy="526.45" r="1.05" fill="#3d9bd9"/>
<circle cx="301.62" cy="528.12" r="1.05" fill="#3d9bd9"/>
<circle cx="304.57" cy="530.85" r="1.05" fill="#3d9bd9"/>
<circle cx="306.27" cy="511.05" r="1.05" fill="#3d9bd9"/>
<circle cx="314.30" cy="515.57" r="1.05" fill="#3d9bd9"/>
<circle cx="318.84" cy="547.21" r="1.05" fill="#3d9bd9"/>
<circle cx="302.12" cy="576.67" r="1.05" fill="#3d9bd9"/>
<circle cx="316.21" cy="509.19" r="1.05" fill="#3d9bd9"/>
<circle cx="306.89" cy="529.72" r="1.05" fill="#3d9bd9"/>
<circle cx="312.08" cy="540.48" r="1.05" fill="#3d9bd9"/>
<circle cx="302.53" cy="538.54" r="1.05" fill="#3d9bd9"/>
<circle cx="315.89" cy="509.37" r="1.05" fill="#3d9bd9"/>
<circle cx="310.15" cy="521.35" r="1.05" fill="#3d9bd9"/>
<circle cx="301.80" cy="585.15" r="1.05" fill="#3d9bd9"/>
<line x1="401.70" y1="532.06" x2="401.70" y2="489.64" stroke="#1f4f9e" stroke-width="0.8" stroke-dasharray="2.4,1.8" stroke-opacity="0.75"/>
<line x1="401.70" y1="566.70" x2="401.70" y2="604.90" stroke="#1f4f9e" stroke-width="0.8" stroke-dasharray="2.4,1.8" stroke-opacity="0.75"/>
<line x1="383.10" y1="489.64" x2="420.30" y2="489.64" stroke="#1f4f9e" stroke-width="1.0"/>
<line x1="383.10" y1="604.90" x2="420.30" y2="604.90" stroke="#1f4f9e" stroke-width="1.0"/>
<rect x="364.80" y="532.06" width="73.80" height="34.64" fill="none" stroke="#3a5a98" stroke-width="1.0"/>
<line x1="364.80" y1="546.30" x2="438.60" y2="546.30" stroke="#1f4f9e" stroke-width="2.8"/>
<circle cx="406.50" cy="582.17" r="1.05" fill="#1f4f9e"/>
<circle cx="392.36" cy="563.34" r="1.05" fill="#1f4f9e"/>
<circle cx="409.49" cy="565.33" r="1.05" fill="#1f4f9e"/>
<circle cx="391.71" cy="540.36" r="1.05" fill="#1f4f9e"/>
<circle cx="404.09" cy="535.87" r="1.05" fill="#1f4f9e"/>
<circle cx="393.69" cy="550.57" r="1.05" fill="#1f4f9e"/>
<circle cx="399.19" cy="561.19" r="1.05" fill="#1f4f9e"/>
<circle cx="394.74" cy="536.20" r="1.05" fill="#1f4f9e"/>
<circle cx="394.93" cy="557.09" r="1.05" fill="#1f4f9e"/>
<circle cx="401.34" cy="558.55" r="1.05" fill="#1f4f9e"/>
<circle cx="399.08" cy="534.67" r="1.05" fill="#1f4f9e"/>
<circle cx="405.18" cy="504.00" r="1.05" fill="#1f4f9e"/>
<circle cx="394.06" cy="533.95" r="1.05" fill="#1f4f9e"/>
<circle cx="405.19" cy="592.40" r="1.05" fill="#1f4f9e"/>
<circle cx="395.72" cy="597.04" r="1.05" fill="#1f4f9e"/>
<circle cx="393.26" cy="558.71" r="1.05" fill="#1f4f9e"/>
<circle cx="398.99" cy="532.97" r="1.05" fill="#1f4f9e"/>
<circle cx="397.36" cy="550.48" r="1.05" fill="#1f4f9e"/>
<circle cx="394.97" cy="576.92" r="1.05" fill="#1f4f9e"/>
<circle cx="410.51" cy="543.41" r="1.05" fill="#1f4f9e"/>
<circle cx="411.21" cy="587.34" r="1.05" fill="#1f4f9e"/>
<circle cx="407.29" cy="564.59" r="1.05" fill="#1f4f9e"/>
<circle cx="402.67" cy="565.14" r="1.05" fill="#1f4f9e"/>
<circle cx="398.70" cy="510.89" r="1.05" fill="#1f4f9e"/>
<circle cx="409.68" cy="564.23" r="1.05" fill="#1f4f9e"/>
<circle cx="392.78" cy="534.28" r="1.05" fill="#1f4f9e"/>
<circle cx="399.65" cy="564.95" r="1.05" fill="#1f4f9e"/>
<circle cx="399.85" cy="557.85" r="1.05" fill="#1f4f9e"/>
<circle cx="392.45" cy="564.92" r="1.05" fill="#1f4f9e"/>
<circle cx="401.87" cy="524.74" r="1.05" fill="#1f4f9e"/>
<circle cx="393.39" cy="548.29" r="1.05" fill="#1f4f9e"/>
<circle cx="402.54" cy="562.96" r="1.05" fill="#1f4f9e"/>
<circle cx="408.84" cy="507.65" r="1.05" fill="#1f4f9e"/>
<circle cx="402.49" cy="566.09" r="1.05" fill="#1f4f9e"/>
<circle cx="399.23" cy="546.90" r="1.05" fill="#1f4f9e"/>
<circle cx="409.96" cy="576.64" r="1.05" fill="#1f4f9e"/>
<circle cx="408.23" cy="551.14" r="1.05" fill="#1f4f9e"/>
<circle cx="397.93" cy="562.69" r="1.05" fill="#1f4f9e"/>
<circle cx="408.09" cy="539.94" r="1.05" fill="#1f4f9e"/>
<circle cx="393.34" cy="562.20" r="1.05" fill="#1f4f9e"/>
<circle cx="400.27" cy="563.78" r="1.05" fill="#1f4f9e"/>
<circle cx="392.93" cy="594.06" r="1.05" fill="#1f4f9e"/>
<circle cx="395.70" cy="601.21" r="1.05" fill="#1f4f9e"/>
<circle cx="393.67" cy="553.75" r="1.05" fill="#1f4f9e"/>
<circle cx="406.75" cy="555.82" r="1.05" fill="#1f4f9e"/>
<circle cx="404.78" cy="570.46" r="1.05" fill="#1f4f9e"/>
<circle cx="400.54" cy="508.61" r="1.05" fill="#1f4f9e"/>
<circle cx="410.80" cy="505.32" r="1.05" fill="#1f4f9e"/>
<circle cx="397.05" cy="577.53" r="1.05" fill="#1f4f9e"/>
<circle cx="394.30" cy="516.46" r="1.05" fill="#1f4f9e"/>
<circle cx="396.95" cy="560.83" r="1.05" fill="#1f4f9e"/>
<circle cx="392.97" cy="592.60" r="1.05" fill="#1f4f9e"/>
<circle cx="392.25" cy="509.32" r="1.05" fill="#1f4f9e"/>
<circle cx="398.84" cy="562.19" r="1.05" fill="#1f4f9e"/>
<circle cx="403.94" cy="493.33" r="1.05" fill="#1f4f9e"/>
<circle cx="392.70" cy="602.96" r="1.05" fill="#1f4f9e"/>
</g>
</svg></body></html>
